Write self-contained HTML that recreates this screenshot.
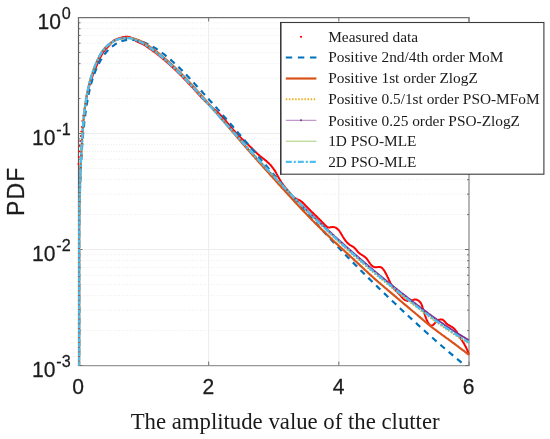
<!DOCTYPE html>
<html><head><meta charset="utf-8"><title>PDF of clutter amplitude</title>
<style>html,body{margin:0;padding:0;background:#fff}svg{display:block}</style></head>
<body>
<svg width="550" height="439" viewBox="0 0 550 439">
<rect width="550" height="439" fill="#fff"/>
<path d="M78.5 98.58H469.0M78.5 78.15H469.0M78.5 63.66H469.0M78.5 52.42H469.0M78.5 43.23H469.0M78.5 35.47H469.0M78.5 28.74H469.0M78.5 22.81H469.0M78.5 214.58H469.0M78.5 194.15H469.0M78.5 179.66H469.0M78.5 168.42H469.0M78.5 159.23H469.0M78.5 151.47H469.0M78.5 144.74H469.0M78.5 138.81H469.0M78.5 330.58H469.0M78.5 310.15H469.0M78.5 295.66H469.0M78.5 284.42H469.0M78.5 275.23H469.0M78.5 267.47H469.0M78.5 260.74H469.0M78.5 254.81H469.0" stroke="#ebebeb" stroke-width="1" stroke-dasharray="1 1.7" fill="none"/>
<path d="M78.5 17.50H469.0M78.5 133.50H469.0M78.5 249.50H469.0M78.5 365.50H469.0M78.50 17.5V365.5M208.67 17.5V365.5M338.83 17.5V365.5M469.00 17.5V365.5" stroke="#ececec" stroke-width="1" fill="none"/>
<path d="M78.5 16.9V366.1" stroke="#5c5c5c" stroke-width="1.2"/>
<path d="M77.9 17.65H469.6" stroke="#707070" stroke-width="1.2"/>
<path d="M469.0 16.9V366.1" stroke="#a0a0a0" stroke-width="1.5"/>
<path d="M77.9 365.7H469.6" stroke="#989898" stroke-width="1.2"/>
<path d="M78.50 365.5v-4M78.50 17.5v4M208.67 365.5v-4M208.67 17.5v4M338.83 365.5v-4M338.83 17.5v4M469.00 365.5v-4M469.00 17.5v4M78.5 17.50h4M469.0 17.50h-4M78.5 133.50h4M469.0 133.50h-4M78.5 249.50h4M469.0 249.50h-4M78.5 365.50h4M469.0 365.50h-4M78.5 98.58h2M469.0 98.58h-2M78.5 78.15h2M469.0 78.15h-2M78.5 63.66h2M469.0 63.66h-2M78.5 52.42h2M469.0 52.42h-2M78.5 43.23h2M469.0 43.23h-2M78.5 35.47h2M469.0 35.47h-2M78.5 28.74h2M469.0 28.74h-2M78.5 22.81h2M469.0 22.81h-2M78.5 214.58h2M469.0 214.58h-2M78.5 194.15h2M469.0 194.15h-2M78.5 179.66h2M469.0 179.66h-2M78.5 168.42h2M469.0 168.42h-2M78.5 159.23h2M469.0 159.23h-2M78.5 151.47h2M469.0 151.47h-2M78.5 144.74h2M469.0 144.74h-2M78.5 138.81h2M469.0 138.81h-2M78.5 330.58h2M469.0 330.58h-2M78.5 310.15h2M469.0 310.15h-2M78.5 295.66h2M469.0 295.66h-2M78.5 284.42h2M469.0 284.42h-2M78.5 275.23h2M469.0 275.23h-2M78.5 267.47h2M469.0 267.47h-2M78.5 260.74h2M469.0 260.74h-2M78.5 254.81h2M469.0 254.81h-2" stroke="#707070" stroke-width="1" fill="none"/>
<clipPath id="c"><rect x="78.1" y="17.5" width="391.7" height="348.5"/></clipPath>
<circle cx="87.0" cy="93.6" r="0.9" fill="#ff0000"/>
<circle cx="86.1" cy="98.5" r="0.9" fill="#ff0000"/>
<circle cx="85.3" cy="103.6" r="0.9" fill="#ff0000"/>
<circle cx="84.4" cy="109" r="0.9" fill="#ff0000"/>
<circle cx="83.2" cy="115.5" r="0.9" fill="#ff0000"/>
<circle cx="82.3" cy="121" r="0.9" fill="#ff0000"/>
<circle cx="81.7" cy="126.8" r="0.9" fill="#ff0000"/>
<circle cx="81.2" cy="131.4" r="0.9" fill="#ff0000"/>
<circle cx="80.7" cy="136" r="0.9" fill="#ff0000"/>
<circle cx="80.2" cy="141" r="0.9" fill="#ff0000"/>
<circle cx="79.8" cy="146" r="0.9" fill="#ff0000"/>
<circle cx="79.3" cy="151.4" r="0.9" fill="#ff0000"/>
<circle cx="78.9" cy="157" r="0.9" fill="#ff0000"/>
<circle cx="78.4" cy="164" r="0.9" fill="#ff0000"/>
<g clip-path="url(#c)" fill="none" stroke-linejoin="round">
<path d="M86.0 100.0 L86.1 99.4 L86.3 98.7 L86.4 98.1 L86.5 97.5 L86.6 96.9 L86.7 96.2 L86.8 95.6 L87.0 95.0 L87.1 94.4 L87.3 93.8 L87.4 93.1 L87.5 92.5 L87.7 91.9 L87.8 91.3 L88.0 90.7 L88.2 90.1 L88.3 89.4 L88.5 88.8 L88.7 88.2 L88.8 87.6 L89.0 87.0 L89.2 86.4 L89.4 85.8 L89.5 85.2 L89.7 84.5 L89.9 83.9 L90.1 83.3 L90.3 82.7 L90.5 82.1 L90.7 81.5 L90.8 80.9 L91.0 80.3 L91.2 79.7 L91.4 79.1 L91.7 78.5 L91.9 77.9 L92.1 77.3 L92.3 76.7 L92.5 76.1 L92.7 75.5 L92.9 74.9 L93.2 74.3 L93.4 73.7 L93.6 73.1 L93.9 72.5 L94.1 71.9 L94.3 71.3 L94.6 70.7 L94.8 70.2 L95.1 69.6 L95.3 69.0 L95.5 68.4 L95.8 67.8 L96.0 67.2 L96.3 66.6 L96.5 66.0 L96.7 65.4 L97.0 64.9 L97.2 64.3 L97.5 63.7 L97.7 63.1 L98.0 62.5 L98.2 61.9 L98.5 61.3 L98.7 60.8 L99.0 60.2 L99.3 59.6 L99.5 59.0 L99.8 58.5 L100.1 57.9 L100.4 57.3 L100.7 56.8 L101.0 56.2 L101.3 55.6 L101.6 55.1 L101.9 54.5 L102.2 54.0 L102.5 53.4 L102.9 52.9 L103.2 52.3 L103.6 51.8 L103.9 51.3 L104.3 50.8 L104.7 50.3 L105.1 49.8 L105.5 49.3 L105.9 48.8 L106.4 48.4 L106.8 47.9 L107.3 47.5 L107.7 47.0 L108.2 46.6 L108.6 46.1 L109.0 45.6 L109.5 45.2 L109.9 44.7 L110.3 44.2 L110.7 43.7 L111.1 43.2 L111.5 42.7 L111.9 42.2 L112.4 41.8 L112.8 41.3 L113.3 40.9 L113.8 40.6 L114.4 40.2 L114.9 39.9 L115.5 39.6 L116.1 39.4 L116.7 39.1 L117.3 38.9 L117.9 38.7 L118.5 38.5 L119.1 38.3 L119.7 38.1 L120.4 37.9 L121.0 37.7 L121.6 37.5 L122.2 37.4 L122.8 37.2 L123.4 37.1 L124.1 37.0 L124.7 36.9 L125.3 36.8 L126.0 36.8 L126.6 36.8 L127.3 36.8 L127.9 36.8 L128.5 36.9 L129.2 37.0 L129.8 37.2 L130.4 37.4 L131.0 37.6 L131.6 37.9 L132.1 38.2 L132.6 38.5 L133.2 38.9 L133.7 39.3 L134.2 39.6 L134.7 40.0 L135.2 40.4 L135.8 40.8 L136.3 41.1 L136.9 41.4 L137.4 41.7 L138.0 42.0 L138.6 42.2 L139.2 42.5 L139.8 42.7 L140.3 43.0 L140.9 43.2 L141.5 43.5 L142.1 43.7 L142.7 44.0 L143.2 44.3 L143.8 44.7 L144.3 45.0 L144.9 45.3 L145.4 45.7 L145.9 46.0 L146.5 46.4 L147.0 46.7 L147.5 47.1 L148.0 47.5 L148.5 47.8 L149.1 48.2 L149.6 48.6 L150.1 48.9 L150.6 49.3 L151.2 49.7 L151.7 50.0 L152.2 50.4 L152.7 50.8 L153.2 51.1 L153.7 51.5 L154.2 51.9 L154.7 52.3 L155.3 52.7 L155.8 53.0 L156.3 53.4 L156.8 53.8 L157.3 54.2 L157.8 54.6 L158.3 55.0 L158.8 55.4 L159.3 55.8 L159.8 56.2 L160.3 56.6 L160.8 57.0 L161.2 57.4 L161.7 57.8 L162.2 58.2 L162.7 58.6 L163.2 59.0 L163.7 59.4 L164.2 59.8 L164.7 60.2 L165.1 60.7 L165.6 61.1 L166.1 61.5 L166.6 61.9 L167.1 62.3 L167.5 62.7 L168.0 63.2 L168.5 63.6 L169.0 64.0 L169.4 64.4 L169.9 64.9 L170.4 65.3 L170.9 65.7 L171.3 66.2 L171.8 66.6 L172.3 67.0 L172.7 67.5 L173.2 67.9 L173.7 68.3 L174.1 68.8 L174.6 69.2 L175.0 69.6 L175.5 70.1 L176.0 70.5 L176.4 71.0 L176.9 71.4 L177.3 71.8 L177.8 72.3 L178.2 72.7 L178.7 73.2 L179.1 73.6 L179.6 74.1 L180.0 74.5 L180.5 75.0 L180.9 75.4 L181.4 75.9 L181.8 76.3 L182.3 76.8 L182.7 77.2 L183.2 77.7 L183.6 78.2 L184.1 78.6 L184.5 79.1 L184.9 79.5 L185.4 80.0 L185.8 80.4 L186.3 80.9 L186.7 81.4 L187.1 81.8 L187.6 82.3 L188.0 82.8 L188.4 83.2 L188.9 83.7 L189.3 84.1 L189.8 84.6 L190.2 85.1 L190.6 85.5 L191.1 86.0 L191.5 86.5 L191.9 86.9 L192.4 87.4 L192.8 87.9 L193.2 88.3 L193.7 88.8 L194.1 89.3 L194.5 89.7 L194.9 90.2 L195.4 90.7 L195.8 91.2 L196.2 91.6 L196.6 92.1 L197.1 92.6 L197.5 93.1 L197.9 93.5 L198.3 94.0 L198.8 94.5 L199.2 95.0 L199.6 95.4 L200.0 95.9 L200.5 96.4 L200.9 96.8 L201.3 97.3 L201.8 97.8 L202.2 98.2 L202.6 98.7 L203.1 99.2 L203.5 99.6 L204.0 100.1 L204.4 100.5 L204.9 101.0 L205.3 101.4 L205.8 101.8 L206.2 102.3 L206.7 102.7 L207.2 103.2 L207.6 103.6 L208.1 104.0 L208.6 104.5 L209.0 104.9 L209.5 105.3 L210.0 105.7 L210.5 106.2 L210.9 106.6 L211.4 107.0 L211.9 107.4 L212.4 107.8 L212.9 108.2 L213.3 108.6 L213.8 109.1 L214.3 109.5 L214.8 109.9 L215.3 110.3 L215.8 110.7 L216.3 111.1 L216.7 111.5 L217.2 112.0 L217.7 112.4 L218.2 112.8 L218.6 113.2 L219.1 113.7 L219.6 114.1 L220.0 114.5 L220.5 115.0 L220.9 115.4 L221.4 115.9 L221.8 116.3 L222.2 116.8 L222.7 117.3 L223.1 117.8 L223.5 118.2 L223.9 118.7 L224.4 119.2 L224.8 119.7 L225.2 120.2 L225.6 120.6 L226.0 121.1 L226.4 121.6 L226.8 122.1 L227.2 122.6 L227.6 123.1 L228.0 123.6 L228.4 124.1 L228.8 124.6 L229.2 125.1 L229.6 125.6 L230.0 126.1 L230.5 126.5 L230.9 127.0 L231.3 127.5 L231.7 128.0 L232.1 128.5 L232.5 129.0 L232.9 129.5 L233.4 129.9 L233.8 130.4 L234.2 130.9 L234.6 131.4 L235.1 131.8 L235.5 132.3 L235.9 132.8 L236.4 133.2 L236.8 133.7 L237.2 134.2 L237.7 134.6 L238.1 135.1 L238.5 135.5 L239.0 136.0 L239.4 136.4 L239.9 136.9 L240.3 137.3 L240.8 137.8 L241.2 138.2 L241.7 138.7 L242.2 139.1 L242.6 139.5 L243.1 140.0 L243.5 140.4 L244.0 140.9 L244.5 141.3 L244.9 141.7 L245.4 142.2 L245.9 142.6 L246.3 143.0 L246.8 143.5 L247.3 143.9 L247.7 144.3 L248.2 144.8 L248.7 145.2 L249.1 145.6 L249.6 146.1 L250.0 146.5 L250.5 147.0 L250.9 147.4 L251.4 147.9 L251.9 148.3 L252.3 148.8 L252.8 149.2 L253.2 149.7 L253.7 150.1 L254.1 150.6 L254.6 151.0 L255.0 151.4 L255.5 151.9 L255.9 152.3 L256.4 152.8 L256.9 153.2 L257.3 153.6 L257.8 154.1 L258.3 154.5 L258.7 154.9 L259.2 155.3 L259.7 155.7 L260.2 156.2 L260.7 156.6 L261.2 157.0 L261.7 157.4 L262.2 157.8 L262.7 158.2 L263.2 158.5 L263.7 158.9 L264.2 159.3 L264.7 159.7 L265.2 160.1 L265.7 160.5 L266.1 160.9 L266.6 161.3 L267.1 161.8 L267.6 162.2 L268.1 162.6 L268.5 163.0 L269.0 163.5 L269.4 163.9 L269.9 164.4 L270.3 164.8 L270.8 165.3 L271.2 165.8 L271.6 166.3 L272.0 166.8 L272.4 167.3 L272.8 167.8 L273.2 168.3 L273.5 168.8 L273.9 169.3 L274.3 169.9 L274.6 170.4 L275.0 170.9 L275.3 171.5 L275.6 172.0 L275.9 172.6 L276.2 173.1 L276.5 173.7 L276.8 174.2 L277.2 174.8 L277.4 175.4 L277.7 175.9 L278.0 176.5 L278.3 177.0 L278.6 177.6 L279.0 178.2 L279.3 178.7 L279.6 179.3 L279.9 179.8 L280.2 180.4 L280.6 180.9 L280.9 181.4 L281.2 182.0 L281.6 182.5 L282.0 183.0 L282.3 183.6 L282.7 184.1 L283.1 184.6 L283.4 185.1 L283.8 185.6 L284.2 186.1 L284.6 186.6 L285.0 187.1 L285.4 187.6 L285.8 188.1 L286.2 188.5 L286.6 189.0 L287.0 189.5 L287.5 190.0 L287.9 190.5 L288.3 191.0 L288.7 191.5 L289.1 191.9 L289.5 192.4 L289.9 192.9 L290.4 193.4 L290.8 193.9 L291.2 194.4 L291.6 194.9 L292.0 195.4 L292.5 195.9 L292.9 196.3 L293.4 196.8 L293.9 197.2 L294.4 197.6 L294.9 197.9 L295.4 198.2 L296.0 198.5 L296.5 198.8 L297.1 199.1 L297.7 199.4 L298.3 199.6 L298.9 199.9 L299.4 200.2 L300.0 200.5 L300.5 200.8 L301.0 201.2 L301.5 201.6 L302.0 202.0 L302.5 202.4 L302.9 202.9 L303.4 203.3 L303.8 203.8 L304.3 204.2 L304.7 204.7 L305.2 205.2 L305.6 205.7 L306.1 206.1 L306.5 206.6 L307.0 207.0 L307.4 207.5 L307.9 208.0 L308.3 208.4 L308.8 208.9 L309.2 209.3 L309.7 209.8 L310.1 210.2 L310.6 210.7 L311.0 211.1 L311.5 211.6 L311.9 212.0 L312.4 212.4 L312.8 212.9 L313.3 213.3 L313.7 213.8 L314.2 214.2 L314.6 214.6 L315.1 215.1 L315.5 215.5 L316.0 215.9 L316.4 216.4 L316.9 216.8 L317.3 217.2 L317.7 217.7 L318.2 218.1 L318.6 218.5 L319.1 219.0 L319.5 219.4 L320.0 219.9 L320.4 220.3 L320.9 220.8 L321.3 221.2 L321.8 221.7 L322.2 222.1 L322.7 222.6 L323.1 223.1 L323.6 223.5 L324.0 224.0 L324.5 224.5 L325.0 225.0 L325.4 225.5 L325.9 225.9 L326.4 226.4 L326.9 226.8 L327.4 227.1 L328.0 227.3 L328.6 227.4 L329.2 227.4 L329.8 227.4 L330.4 227.3 L331.1 227.2 L331.8 227.1 L332.4 227.0 L333.1 227.0 L333.7 227.1 L334.4 227.2 L335.0 227.4 L335.6 227.6 L336.1 227.9 L336.7 228.3 L337.2 228.7 L337.7 229.1 L338.1 229.5 L338.6 230.0 L339.0 230.5 L339.4 231.0 L339.7 231.5 L340.1 232.0 L340.4 232.6 L340.8 233.1 L341.1 233.7 L341.4 234.2 L341.8 234.8 L342.1 235.3 L342.4 235.9 L342.7 236.4 L343.0 237.0 L343.4 237.5 L343.7 238.1 L344.0 238.6 L344.4 239.1 L344.8 239.7 L345.1 240.2 L345.5 240.7 L345.9 241.2 L346.3 241.7 L346.7 242.2 L347.2 242.6 L347.6 243.1 L348.1 243.5 L348.6 243.9 L349.1 244.3 L349.6 244.7 L350.1 245.1 L350.7 245.4 L351.2 245.7 L351.8 246.0 L352.3 246.4 L352.9 246.7 L353.4 247.0 L353.9 247.4 L354.4 247.8 L354.8 248.3 L355.3 248.7 L355.7 249.2 L356.1 249.7 L356.5 250.2 L356.9 250.7 L357.3 251.2 L357.7 251.7 L358.2 252.2 L358.6 252.6 L359.1 253.0 L359.6 253.4 L360.1 253.8 L360.6 254.1 L361.2 254.5 L361.7 254.8 L362.3 255.2 L362.8 255.5 L363.3 255.9 L363.9 256.2 L364.4 256.6 L364.9 257.0 L365.4 257.4 L365.8 257.8 L366.3 258.3 L366.7 258.7 L367.1 259.2 L367.4 259.7 L367.8 260.2 L368.2 260.8 L368.5 261.3 L368.9 261.8 L369.2 262.4 L369.6 262.9 L370.0 263.5 L370.4 264.0 L370.8 264.5 L371.2 265.0 L371.7 265.5 L372.2 265.9 L372.7 266.3 L373.2 266.7 L373.8 266.9 L374.3 267.1 L375.0 267.2 L375.6 267.3 L376.2 267.3 L376.9 267.2 L377.6 267.1 L378.2 267.0 L378.9 267.0 L379.5 267.0 L380.1 267.0 L380.6 267.2 L381.2 267.4 L381.7 267.7 L382.2 268.1 L382.6 268.6 L383.1 269.1 L383.5 269.6 L383.9 270.2 L384.3 270.8 L384.7 271.4 L385.0 272.0 L385.3 272.6 L385.7 273.2 L386.0 273.8 L386.3 274.4 L386.6 274.9 L386.9 275.5 L387.1 276.0 L387.4 276.6 L387.7 277.2 L388.0 277.7 L388.2 278.3 L388.5 278.8 L388.7 279.4 L389.0 280.0 L389.2 280.5 L389.5 281.1 L389.8 281.7 L390.0 282.3 L390.3 282.9 L390.6 283.4 L390.9 284.0 L391.2 284.6 L391.5 285.1 L391.8 285.7 L392.1 286.2 L392.5 286.8 L392.8 287.3 L393.2 287.8 L393.6 288.3 L394.0 288.8 L394.4 289.3 L394.9 289.7 L395.3 290.2 L395.7 290.6 L396.2 291.1 L396.6 291.5 L397.1 292.0 L397.5 292.4 L398.0 292.9 L398.4 293.3 L398.9 293.8 L399.3 294.3 L399.8 294.7 L400.2 295.2 L400.6 295.7 L401.0 296.2 L401.4 296.7 L401.9 297.2 L402.3 297.7 L402.7 298.1 L403.2 298.6 L403.6 299.0 L404.1 299.4 L404.6 299.8 L405.2 300.1 L405.8 300.4 L406.4 300.6 L407.0 300.8 L407.6 301.0 L408.3 301.1 L408.9 301.1 L409.6 301.1 L410.2 301.0 L410.8 300.8 L411.4 300.6 L412.1 300.3 L412.7 300.1 L413.3 299.9 L413.9 299.7 L414.5 299.6 L415.1 299.5 L415.7 299.5 L416.3 299.6 L416.9 299.8 L417.5 300.1 L418.1 300.4 L418.7 300.8 L419.2 301.2 L419.7 301.7 L420.1 302.2 L420.5 302.7 L420.9 303.2 L421.2 303.8 L421.5 304.3 L421.7 304.9 L422.0 305.5 L422.2 306.1 L422.4 306.7 L422.5 307.4 L422.7 308.0 L422.9 308.6 L423.1 309.2 L423.2 309.9 L423.4 310.5 L423.6 311.1 L423.8 311.7 L424.0 312.3 L424.2 312.9 L424.4 313.5 L424.6 314.1 L424.8 314.7 L425.0 315.3 L425.2 315.9 L425.4 316.5 L425.7 317.1 L425.9 317.7 L426.1 318.3 L426.3 318.8 L426.5 319.4 L426.8 320.0 L427.0 320.6 L427.3 321.1 L427.6 321.7 L427.9 322.3 L428.2 322.8 L428.6 323.4 L429.0 324.0 L429.4 324.5 L429.9 325.0 L430.4 325.4 L430.9 325.6 L431.5 325.6 L432.2 325.4 L432.8 325.1 L433.3 324.8 L433.8 324.3 L434.2 323.9 L434.7 323.4 L435.1 322.9 L435.5 322.4 L435.9 322.0 L436.4 321.5 L436.8 321.1 L437.3 320.7 L437.9 320.4 L438.5 320.0 L439.1 319.8 L439.7 319.6 L440.4 319.4 L441.0 319.4 L441.6 319.4 L442.2 319.6 L442.8 319.8 L443.3 320.2 L443.8 320.6 L444.2 321.0 L444.7 321.5 L445.1 322.0 L445.6 322.5 L446.0 323.0 L446.5 323.5 L447.0 323.9 L447.5 324.3 L448.0 324.6 L448.6 324.9 L449.1 325.3 L449.7 325.6 L450.2 325.9 L450.8 326.3 L451.3 326.6 L451.9 326.9 L452.4 327.3 L452.9 327.7 L453.4 328.0 L453.9 328.4 L454.4 328.9 L454.8 329.3 L455.2 329.8 L455.6 330.3 L456.0 330.8 L456.4 331.3 L456.7 331.8 L457.0 332.4 L457.3 333.0 L457.6 333.5 L457.9 334.1 L458.3 334.7 L458.6 335.2 L458.9 335.8 L459.2 336.3 L459.5 336.9 L459.9 337.4 L460.2 337.9 L460.6 338.5 L460.9 339.0 L461.3 339.5 L461.7 340.0 L462.0 340.6 L462.4 341.1 L462.7 341.6 L463.1 342.1 L463.4 342.7 L463.8 343.2 L464.1 343.8 L464.4 344.3 L464.7 344.9 L465.0 345.4 L465.3 346.0 L465.6 346.6 L465.9 347.1 L466.2 347.7 L466.5 348.3 L466.7 348.9 L467.0 349.4 L467.2 350.0 L467.5 350.6 L467.7 351.2 L467.9 351.8 L468.1 352.4 L468.4 353.0 L468.6 353.6 L468.8 354.2 L469.0 354.8" stroke="#ff0000" stroke-width="2"/>
<path d="M79.0 365.5 L79.0 364.3 L79.0 363.2 L79.0 362.0 L79.0 360.8 L79.1 359.6 L79.1 358.5 L79.1 357.3 L79.1 356.1 L79.1 354.9 L79.1 353.7 L79.1 352.6 L79.2 351.4 L79.2 350.2 L79.2 349.0 L79.2 347.9 L79.2 346.7 L79.2 345.5 L79.2 344.3 L79.2 343.2 L79.2 342.0 L79.2 340.8 L79.2 339.6 L79.2 338.5 L79.2 337.3 L79.3 336.1 L79.3 334.9 L79.3 333.8 L79.3 332.6 L79.3 331.4 L79.3 330.2 L79.3 329.1 L79.3 327.9 L79.3 326.7 L79.3 325.5 L79.3 324.4 L79.3 323.2 L79.3 322.0 L79.3 320.8 L79.3 319.6 L79.3 318.5 L79.3 317.3 L79.3 316.1 L79.3 314.9 L79.3 313.8 L79.3 312.6 L79.3 311.4 L79.3 310.2 L79.3 309.1 L79.3 307.9 L79.2 306.7 L79.2 305.5 L79.2 304.4 L79.2 303.2 L79.2 302.0 L79.2 300.8 L79.2 299.7 L79.2 298.5 L79.2 297.3 L79.2 296.1 L79.2 295.0 L79.2 293.8 L79.2 292.6 L79.2 291.4 L79.2 290.3 L79.2 289.1 L79.2 287.9 L79.2 286.7 L79.2 285.6 L79.2 284.4 L79.2 283.2 L79.2 282.0 L79.2 280.9 L79.1 279.7 L79.1 278.5 L79.1 277.3 L79.1 276.1 L79.1 275.0 L79.1 273.8 L79.1 272.6 L79.1 271.4 L79.1 270.3 L79.1 269.1 L79.1 267.9 L79.1 266.7 L79.1 265.6 L79.1 264.4 L79.1 263.2 L79.1 262.0 L79.1 260.9 L79.1 259.7 L79.1 258.5 L79.1 257.3 L79.1 256.2 L79.1 255.0 L79.1 253.8 L79.1 252.6 L79.1 251.5 L79.1 250.3 L79.1 249.1 L79.1 247.9 L79.1 246.8 L79.1 245.6 L79.1 244.4 L79.1 243.2 L79.1 242.1 L79.1 240.9 L79.1 239.7 L79.1 238.5 L79.1 237.4 L79.2 236.2 L79.2 235.0 L79.2 233.8 L79.2 232.7 L79.2 231.5 L79.2 230.3 L79.2 229.1 L79.2 228.0 L79.2 226.8 L79.2 225.6 L79.3 224.4 L79.3 223.3 L79.3 222.1 L79.3 220.9 L79.3 219.7 L79.3 218.6 L79.4 217.4 L79.4 216.2 L79.4 215.0 L79.4 213.9 L79.4 212.7 L79.4 211.5 L79.5 210.3 L79.5 209.2 L79.5 208.0 L79.5 206.8 L79.6 205.6 L79.6 204.5 L79.6 203.3 L79.6 202.1 L79.7 200.9 L79.7 199.8 L79.7 198.6 L79.8 197.4 L79.8 196.2 L79.8 195.1 L79.9 193.9 L79.9 192.7 L79.9 191.5 L80.0 190.4 L80.0 189.2 L80.0 188.0 L80.1 186.8 L80.1 185.7 L80.2 184.5 L80.2 183.3 L80.2 182.1 L80.3 181.0 L80.3 179.8 L80.4 178.6 L80.4 177.4 L80.5 176.3 L80.5 175.1 L80.6 173.9 L80.6 172.7 L80.7 171.6 L80.7 170.4 L80.8 169.2 L80.9 168.0 L80.9 166.9 L81.0 165.7 L81.0 164.5 L81.1 163.3 L81.2 162.2 L81.2 161.0 L81.3 159.8 L81.4 158.6 L81.4 157.5 L81.5 156.3 L81.6 155.1 L81.6 153.9 L81.7 152.8 L81.8 151.6 L81.9 150.4 L81.9 149.2 L82.0 148.1 L82.1 146.9 L82.2 145.7 L82.3 144.5 L82.4 143.4 L82.4 142.2 L82.5 141.0 L82.6 139.8 L82.7 138.7 L82.8 137.5 L82.9 136.3 L83.0 135.1 L83.1 134.0 L83.2 132.8 L83.3 131.6 L83.5 130.5 L83.6 129.3 L83.7 128.1 L83.8 127.0 L83.9 125.8 L84.1 124.6 L84.2 123.4 L84.3 122.3 L84.5 121.1 L84.6 119.9 L84.7 118.8 L84.9 117.6 L85.0 116.5 L85.2 115.3 L85.3 114.1 L85.5 113.0 L85.7 111.8 L85.8 110.6 L86.0 109.5 L86.2 108.3 L86.4 107.2 L86.5 106.0 L86.7 104.9 L86.9 103.7 L87.1 102.5 L87.3 101.4 L87.5 100.2 L87.7 99.1 L87.9 97.9 L88.1 96.8 L88.4 95.6 L88.6 94.5 L88.8 93.3 L89.1 92.2 L89.3 91.1 L89.6 89.9 L89.9 88.8 L90.1 87.6 L90.4 86.5 L90.7 85.4 L91.0 84.2 L91.3 83.1 L91.6 82.0 L92.0 80.8 L92.3 79.7 L92.7 78.6 L93.0 77.5 L93.4 76.4 L93.8 75.2 L94.2 74.1 L94.6 73.0 L95.0 71.9 L95.5 70.8 L95.9 69.7 L96.4 68.6 L96.9 67.5 L97.4 66.4 L97.9 65.3 L98.4 64.3 L99.0 63.2 L99.6 62.1 L100.1 61.1 L100.7 60.0 L101.4 59.0 L102.0 58.0 L102.6 57.0 L103.3 56.0 L104.0 55.0 L104.7 54.1 L105.5 53.1 L106.2 52.2 L107.0 51.3 L107.8 50.5 L108.7 49.6 L109.5 48.8 L110.4 48.0 L111.3 47.2 L112.2 46.5 L113.1 45.8 L114.1 45.1 L115.0 44.4 L116.0 43.8 L117.0 43.3 L118.0 42.7 L119.1 42.2 L120.1 41.8 L121.2 41.4 L122.3 41.0 L123.4 40.7 L124.5 40.4 L125.6 40.2 L126.7 40.0 L127.8 39.9 L129.0 39.8 L130.1 39.8 L131.3 39.8 L132.4 39.8 L133.6 39.9 L134.7 40.0 L135.8 40.2 L137.0 40.4 L138.1 40.6 L139.3 40.9 L140.4 41.2 L141.5 41.5 L142.6 41.9 L143.7 42.3 L144.8 42.7 L145.9 43.2 L147.0 43.7 L148.1 44.2 L149.1 44.7 L150.2 45.2 L151.3 45.8 L152.3 46.4 L153.3 47.0 L154.4 47.6 L155.4 48.2 L156.4 48.9 L157.4 49.5 L158.4 50.2 L159.4 50.9 L160.3 51.6 L161.3 52.3 L162.3 53.0 L163.2 53.7 L164.2 54.4 L165.1 55.1 L166.0 55.9 L166.9 56.6 L167.8 57.3 L168.7 58.1 L169.6 58.9 L170.5 59.6 L171.4 60.4 L172.3 61.2 L173.2 62.0 L174.0 62.8 L174.9 63.5 L175.8 64.3 L176.6 65.2 L177.5 66.0 L178.3 66.8 L179.2 67.6 L180.0 68.4 L180.8 69.2 L181.7 70.1 L182.5 70.9 L183.3 71.7 L184.1 72.6 L184.9 73.4 L185.8 74.3 L186.6 75.1 L187.4 76.0 L188.2 76.8 L189.0 77.7 L189.8 78.5 L190.6 79.4 L191.4 80.2 L192.2 81.1 L193.0 82.0 L193.8 82.8 L194.6 83.7 L195.4 84.5 L196.2 85.4 L197.0 86.3 L197.8 87.1 L198.6 88.0 L199.4 88.8 L200.2 89.7 L201.0 90.6 L201.8 91.4 L202.5 92.3 L203.3 93.2 L204.1 94.0 L204.9 94.9 L205.7 95.8 L206.5 96.7 L207.3 97.5 L208.1 98.4 L208.8 99.3 L209.6 100.2 L210.4 101.0 L211.2 101.9 L212.0 102.8 L212.8 103.7 L213.5 104.5 L214.3 105.4 L215.1 106.3 L215.9 107.2 L216.7 108.0 L217.4 108.9 L218.2 109.8 L219.0 110.7 L219.8 111.6 L220.5 112.4 L221.3 113.3 L222.1 114.2 L222.9 115.1 L223.6 116.0 L224.4 116.9 L225.2 117.8 L226.0 118.6 L226.7 119.5 L227.5 120.4 L228.3 121.3 L229.0 122.2 L229.8 123.1 L230.6 124.0 L231.3 124.8 L232.1 125.7 L232.9 126.6 L233.6 127.5 L234.4 128.4 L235.2 129.3 L235.9 130.2 L236.7 131.1 L237.5 132.0 L238.2 132.9 L239.0 133.8 L239.8 134.6 L240.5 135.5 L241.3 136.4 L242.1 137.3 L242.8 138.2 L243.6 139.1 L244.4 140.0 L245.1 140.9 L245.9 141.8 L246.7 142.7 L247.4 143.6 L248.2 144.5 L248.9 145.4 L249.7 146.3 L250.5 147.2 L251.2 148.1 L252.0 149.0 L252.8 149.9 L253.5 150.8 L254.3 151.6 L255.0 152.5 L255.8 153.4 L256.6 154.3 L257.3 155.2 L258.1 156.1 L258.8 157.0 L259.6 157.9 L260.4 158.8 L261.1 159.7 L261.9 160.6 L262.6 161.5 L263.4 162.4 L264.2 163.3 L264.9 164.2 L265.7 165.1 L266.5 166.0 L267.2 166.9 L268.0 167.8 L268.7 168.7 L269.5 169.6 L270.3 170.5 L271.0 171.4 L271.8 172.3 L272.5 173.2 L273.3 174.1 L274.1 175.0 L274.8 175.9 L275.6 176.7 L276.4 177.6 L277.1 178.5 L277.9 179.4 L278.6 180.3 L279.4 181.2 L280.2 182.1 L280.9 183.0 L281.7 183.9 L282.5 184.8 L283.2 185.7 L284.0 186.6 L284.8 187.5 L285.5 188.4 L286.3 189.3 L287.1 190.2 L287.8 191.0 L288.6 191.9 L289.4 192.8 L290.1 193.7 L290.9 194.6 L291.7 195.5 L292.4 196.4 L293.2 197.3 L294.0 198.2 L294.7 199.1 L295.5 199.9 L296.3 200.8 L297.1 201.7 L297.8 202.6 L298.6 203.5 L299.4 204.4 L300.2 205.3 L300.9 206.2 L301.7 207.0 L302.5 207.9 L303.3 208.8 L304.0 209.7 L304.8 210.6 L305.6 211.5 L306.4 212.3 L307.1 213.2 L307.9 214.1 L308.7 215.0 L309.5 215.9 L310.3 216.7 L311.0 217.6 L311.8 218.5 L312.6 219.4 L313.4 220.2 L314.2 221.1 L315.0 222.0 L315.7 222.9 L316.5 223.7 L317.3 224.6 L318.1 225.5 L318.9 226.4 L319.7 227.2 L320.5 228.1 L321.3 229.0 L322.1 229.8 L322.9 230.7 L323.6 231.6 L324.4 232.4 L325.2 233.3 L326.0 234.2 L326.8 235.0 L327.6 235.9 L328.4 236.8 L329.2 237.6 L330.0 238.5 L330.8 239.3 L331.6 240.2 L332.4 241.1 L333.2 241.9 L334.0 242.8 L334.8 243.6 L335.6 244.5 L336.5 245.3 L337.3 246.2 L338.1 247.0 L338.9 247.9 L339.7 248.7 L340.5 249.6 L341.3 250.4 L342.1 251.3 L342.9 252.1 L343.8 253.0 L344.6 253.8 L345.4 254.7 L346.2 255.5 L347.0 256.4 L347.8 257.2 L348.7 258.1 L349.5 258.9 L350.3 259.7 L351.1 260.6 L351.9 261.4 L352.8 262.3 L353.6 263.1 L354.4 263.9 L355.2 264.8 L356.1 265.6 L356.9 266.4 L357.7 267.3 L358.6 268.1 L359.4 268.9 L360.2 269.8 L361.0 270.6 L361.9 271.4 L362.7 272.3 L363.5 273.1 L364.4 273.9 L365.2 274.8 L366.0 275.6 L366.9 276.4 L367.7 277.2 L368.6 278.1 L369.4 278.9 L370.2 279.7 L371.1 280.5 L371.9 281.4 L372.7 282.2 L373.6 283.0 L374.4 283.8 L375.3 284.6 L376.1 285.5 L377.0 286.3 L377.8 287.1 L378.6 287.9 L379.5 288.7 L380.3 289.5 L381.2 290.4 L382.0 291.2 L382.9 292.0 L383.7 292.8 L384.6 293.6 L385.4 294.4 L386.3 295.2 L387.1 296.1 L388.0 296.9 L388.8 297.7 L389.7 298.5 L390.5 299.3 L391.4 300.1 L392.2 300.9 L393.1 301.7 L394.0 302.5 L394.8 303.3 L395.7 304.1 L396.5 304.9 L397.4 305.7 L398.2 306.6 L399.1 307.4 L400.0 308.2 L400.8 309.0 L401.7 309.8 L402.5 310.6 L403.4 311.4 L404.2 312.2 L405.1 313.0 L406.0 313.8 L406.8 314.6 L407.7 315.4 L408.6 316.2 L409.4 317.0 L410.3 317.8 L411.2 318.6 L412.0 319.4 L412.9 320.2 L413.7 320.9 L414.6 321.7 L415.5 322.5 L416.4 323.3 L417.2 324.1 L418.1 324.9 L419.0 325.7 L419.8 326.5 L420.7 327.3 L421.6 328.1 L422.4 328.9 L423.3 329.6 L424.2 330.4 L425.1 331.2 L425.9 332.0 L426.8 332.8 L427.7 333.6 L428.6 334.4 L429.4 335.1 L430.3 335.9 L431.2 336.7 L432.1 337.5 L433.0 338.3 L433.8 339.0 L434.7 339.8 L435.6 340.6 L436.5 341.4 L437.4 342.1 L438.3 342.9 L439.2 343.7 L440.0 344.4 L440.9 345.2 L441.8 346.0 L442.7 346.8 L443.6 347.5 L444.5 348.3 L445.4 349.1 L446.3 349.8 L447.2 350.6 L448.1 351.3 L449.0 352.1 L449.9 352.9 L450.8 353.6 L451.7 354.4 L452.5 355.1 L453.4 355.9 L454.4 356.6 L455.3 357.4 L456.2 358.2 L457.1 358.9 L458.0 359.7 L458.9 360.4 L459.8 361.1 L460.7 361.9 L461.6 362.6" stroke="#0072bd" stroke-width="2.2" stroke-dasharray="5.9 5.03" stroke-dashoffset="2.01"/>
<path d="M79.1 365.5 L79.1 364.4 L79.1 363.2 L79.1 362.0 L79.1 360.9 L79.1 359.7 L79.1 358.6 L79.1 357.4 L79.1 356.3 L79.1 355.1 L79.2 353.9 L79.2 352.8 L79.2 351.6 L79.2 350.5 L79.2 349.3 L79.2 348.2 L79.2 347.0 L79.2 345.8 L79.2 344.7 L79.2 343.5 L79.2 342.4 L79.2 341.2 L79.2 340.1 L79.2 338.9 L79.2 337.8 L79.2 336.6 L79.2 335.4 L79.2 334.3 L79.2 333.1 L79.2 332.0 L79.2 330.8 L79.2 329.7 L79.2 328.5 L79.2 327.3 L79.2 326.2 L79.2 325.0 L79.2 323.9 L79.2 322.7 L79.2 321.6 L79.2 320.4 L79.2 319.3 L79.2 318.1 L79.2 316.9 L79.2 315.8 L79.2 314.6 L79.2 313.5 L79.2 312.3 L79.2 311.2 L79.2 310.0 L79.2 308.9 L79.2 307.7 L79.2 306.5 L79.2 305.4 L79.2 304.2 L79.2 303.1 L79.2 301.9 L79.2 300.8 L79.2 299.6 L79.2 298.4 L79.2 297.3 L79.2 296.1 L79.2 295.0 L79.2 293.8 L79.2 292.7 L79.2 291.5 L79.2 290.4 L79.2 289.2 L79.2 288.0 L79.2 286.9 L79.2 285.7 L79.2 284.6 L79.2 283.4 L79.2 282.3 L79.2 281.1 L79.2 280.0 L79.2 278.8 L79.2 277.6 L79.2 276.5 L79.2 275.3 L79.2 274.2 L79.2 273.0 L79.2 271.9 L79.2 270.7 L79.2 269.6 L79.2 268.4 L79.2 267.2 L79.2 266.1 L79.2 264.9 L79.2 263.8 L79.2 262.6 L79.2 261.5 L79.2 260.3 L79.2 259.2 L79.2 258.0 L79.2 256.9 L79.2 255.7 L79.2 254.5 L79.2 253.4 L79.2 252.2 L79.2 251.1 L79.2 249.9 L79.2 248.8 L79.2 247.6 L79.2 246.5 L79.2 245.3 L79.2 244.1 L79.2 243.0 L79.2 241.8 L79.2 240.7 L79.2 239.5 L79.2 238.4 L79.2 237.2 L79.2 236.1 L79.2 234.9 L79.2 233.7 L79.2 232.6 L79.2 231.4 L79.2 230.3 L79.2 229.1 L79.2 228.0 L79.2 226.8 L79.2 225.7 L79.2 224.5 L79.2 223.4 L79.3 222.2 L79.3 221.0 L79.3 219.9 L79.3 218.7 L79.3 217.6 L79.3 216.4 L79.3 215.3 L79.4 214.1 L79.4 213.0 L79.4 211.8 L79.4 210.6 L79.4 209.5 L79.5 208.3 L79.5 207.2 L79.5 206.0 L79.5 204.9 L79.5 203.7 L79.6 202.6 L79.6 201.4 L79.6 200.3 L79.6 199.1 L79.7 197.9 L79.7 196.8 L79.7 195.6 L79.8 194.5 L79.8 193.3 L79.8 192.2 L79.8 191.0 L79.9 189.9 L79.9 188.7 L79.9 187.5 L80.0 186.4 L80.0 185.2 L80.0 184.1 L80.1 182.9 L80.1 181.8 L80.2 180.6 L80.2 179.5 L80.2 178.3 L80.3 177.2 L80.3 176.0 L80.4 174.8 L80.4 173.7 L80.4 172.5 L80.5 171.4 L80.5 170.2 L80.6 169.1 L80.6 167.9 L80.7 166.8 L80.7 165.6 L80.8 164.4 L80.8 163.3 L80.9 162.1 L80.9 161.0 L81.0 159.8 L81.0 158.7 L81.1 157.5 L81.2 156.4 L81.2 155.2 L81.3 154.1 L81.3 152.9 L81.4 151.7 L81.5 150.6 L81.5 149.4 L81.6 148.3 L81.6 147.1 L81.7 146.0 L81.8 144.8 L81.8 143.7 L81.9 142.5 L82.0 141.3 L82.1 140.2 L82.1 139.0 L82.2 137.9 L82.3 136.7 L82.4 135.6 L82.4 134.4 L82.5 133.3 L82.6 132.1 L82.7 130.9 L82.8 129.8 L82.8 128.6 L82.9 127.5 L83.0 126.3 L83.1 125.2 L83.2 124.0 L83.3 122.9 L83.4 121.7 L83.5 120.6 L83.6 119.4 L83.7 118.3 L83.8 117.1 L84.0 116.0 L84.1 114.8 L84.2 113.7 L84.3 112.5 L84.5 111.4 L84.6 110.2 L84.7 109.1 L84.9 107.9 L85.0 106.8 L85.2 105.6 L85.3 104.5 L85.5 103.4 L85.7 102.2 L85.9 101.1 L86.0 99.9 L86.2 98.8 L86.4 97.7 L86.6 96.5 L86.8 95.4 L87.0 94.3 L87.2 93.1 L87.5 92.0 L87.7 90.9 L87.9 89.8 L88.2 88.6 L88.4 87.5 L88.7 86.4 L89.0 85.3 L89.2 84.1 L89.5 83.0 L89.8 81.9 L90.1 80.8 L90.4 79.7 L90.7 78.6 L91.1 77.5 L91.4 76.4 L91.7 75.3 L92.1 74.2 L92.5 73.1 L92.8 72.0 L93.2 70.9 L93.6 69.8 L94.0 68.7 L94.4 67.6 L94.8 66.5 L95.2 65.4 L95.7 64.3 L96.1 63.3 L96.6 62.2 L97.1 61.1 L97.6 60.0 L98.1 59.0 L98.6 57.9 L99.1 56.9 L99.6 55.9 L100.2 54.8 L100.8 53.8 L101.4 52.8 L102.1 51.9 L102.7 50.9 L103.4 50.0 L104.1 49.1 L104.9 48.2 L105.7 47.3 L106.5 46.5 L107.3 45.7 L108.2 44.9 L109.1 44.2 L110.0 43.5 L110.9 42.8 L111.9 42.2 L112.9 41.6 L113.9 41.0 L114.9 40.5 L116.0 40.0 L117.0 39.6 L118.1 39.3 L119.2 38.9 L120.3 38.7 L121.4 38.4 L122.5 38.3 L123.6 38.1 L124.7 38.0 L125.9 37.7 L127.0 37.7 L128.1 37.7 L129.2 37.8 L130.3 37.9 L131.4 38.0 L132.5 38.2 L133.6 38.5 L134.7 38.8 L135.8 39.1 L136.8 39.5 L137.9 39.9 L138.9 40.3 L139.9 40.8 L141.0 41.3 L142.0 41.8 L143.0 42.4 L144.0 42.9 L145.0 43.5 L146.0 44.2 L147.0 44.8 L148.0 45.4 L149.0 46.1 L149.9 46.8 L150.9 47.5 L151.9 48.1 L152.8 48.8 L153.8 49.5 L154.7 50.2 L155.6 50.9 L156.6 51.7 L157.5 52.4 L158.4 53.1 L159.3 53.8 L160.2 54.5 L161.1 55.3 L162.0 56.0 L162.9 56.8 L163.8 57.5 L164.7 58.3 L165.6 59.0 L166.5 59.8 L167.3 60.6 L168.2 61.3 L169.1 62.1 L169.9 62.9 L170.8 63.6 L171.6 64.4 L172.5 65.2 L173.3 66.0 L174.2 66.8 L175.0 67.6 L175.8 68.4 L176.7 69.2 L177.5 70.0 L178.3 70.8 L179.1 71.6 L179.9 72.4 L180.8 73.3 L181.6 74.1 L182.4 74.9 L183.2 75.7 L184.0 76.5 L184.8 77.4 L185.6 78.2 L186.4 79.0 L187.2 79.9 L188.0 80.7 L188.8 81.6 L189.6 82.4 L190.3 83.2 L191.1 84.1 L191.9 84.9 L192.7 85.8 L193.5 86.6 L194.3 87.5 L195.0 88.3 L195.8 89.2 L196.6 90.0 L197.4 90.9 L198.1 91.7 L198.9 92.6 L199.7 93.5 L200.5 94.3 L201.2 95.2 L202.0 96.0 L202.8 96.9 L203.5 97.8 L204.3 98.7 L205.1 99.6 L205.8 100.5 L206.6 101.4 L207.4 102.3 L208.2 103.2 L208.9 104.1 L209.7 105.0 L210.5 105.9 L211.2 106.8 L212.0 107.7 L212.8 108.6 L213.5 109.5 L214.3 110.5 L215.1 111.4 L215.8 112.3 L216.6 113.2 L217.4 114.1 L218.2 115.0 L218.9 115.9 L219.7 116.8 L220.5 117.7 L221.2 118.6 L222.0 119.5 L222.8 120.4 L223.6 121.3 L224.3 122.2 L225.1 123.1 L225.9 124.0 L226.6 124.9 L227.4 125.8 L228.2 126.7 L228.9 127.6 L229.7 128.5 L230.5 129.4 L231.3 130.3 L232.0 131.2 L232.8 132.1 L233.6 133.0 L234.4 133.9 L235.1 134.8 L235.9 135.7 L236.7 136.6 L237.4 137.5 L238.2 138.4 L239.0 139.3 L239.8 140.2 L240.5 141.1 L241.3 142.0 L242.1 142.9 L242.9 143.8 L243.6 144.7 L244.4 145.6 L245.2 146.5 L246.0 147.4 L246.8 148.3 L247.5 149.2 L248.3 150.1 L249.1 150.9 L249.9 151.8 L250.6 152.7 L251.4 153.6 L252.2 154.5 L253.0 155.4 L253.8 156.3 L254.5 157.1 L255.3 158.0 L256.1 158.9 L256.9 159.8 L257.7 160.7 L258.4 161.5 L259.2 162.4 L260.0 163.3 L260.8 164.2 L261.6 165.0 L262.4 165.9 L263.1 166.8 L263.9 167.7 L264.7 168.5 L265.5 169.4 L266.3 170.3 L267.1 171.2 L267.9 172.0 L268.6 172.9 L269.4 173.8 L270.2 174.7 L271.0 175.6 L271.8 176.4 L272.6 177.3 L273.4 178.2 L274.2 179.1 L275.0 180.0 L275.8 180.8 L276.5 181.7 L277.3 182.6 L278.1 183.5 L278.9 184.4 L279.7 185.2 L280.5 186.1 L281.3 187.0 L282.1 187.9 L282.9 188.8 L283.7 189.6 L284.5 190.5 L285.3 191.4 L286.1 192.3 L286.9 193.1 L287.7 194.0 L288.5 194.9 L289.3 195.8 L290.1 196.6 L290.9 197.5 L291.7 198.4 L292.5 199.3 L293.3 200.1 L294.1 201.0 L294.9 201.9 L295.7 202.8 L296.5 203.6 L297.4 204.5 L298.2 205.4 L299.0 206.3 L299.8 207.1 L300.6 208.0 L301.4 208.9 L302.2 209.7 L303.0 210.6 L303.8 211.4 L304.7 212.3 L305.5 213.1 L306.3 214.0 L307.1 214.8 L307.9 215.7 L308.7 216.5 L309.6 217.4 L310.4 218.2 L311.2 219.0 L312.0 219.9 L312.8 220.7 L313.7 221.5 L314.5 222.4 L315.3 223.2 L316.1 224.0 L317.0 224.8 L317.8 225.6 L318.6 226.4 L319.5 227.3 L320.3 228.1 L321.1 228.9 L322.0 229.7 L322.8 230.5 L323.6 231.3 L324.5 232.1 L325.3 232.9 L326.1 233.7 L327.0 234.5 L327.8 235.3 L328.6 236.1 L329.5 236.9 L330.3 237.8 L331.2 238.6 L332.0 239.4 L332.8 240.2 L333.7 241.0 L334.5 241.8 L335.4 242.6 L336.2 243.3 L337.1 244.1 L337.9 244.9 L338.8 245.7 L339.6 246.5 L340.5 247.3 L341.3 248.1 L342.2 248.9 L343.0 249.7 L343.9 250.4 L344.8 251.2 L345.6 252.0 L346.5 252.8 L347.3 253.6 L348.2 254.3 L349.1 255.1 L349.9 255.9 L350.8 256.7 L351.6 257.5 L352.5 258.3 L353.4 259.1 L354.2 259.9 L355.1 260.7 L356.0 261.5 L356.9 262.3 L357.7 263.1 L358.6 263.9 L359.5 264.8 L360.3 265.6 L361.2 266.4 L362.1 267.2 L363.0 268.0 L363.8 268.8 L364.7 269.7 L365.6 270.5 L366.5 271.3 L367.4 272.1 L368.2 273.0 L369.1 273.8 L370.0 274.6 L370.9 275.4 L371.8 276.2 L372.7 277.0 L373.5 277.8 L374.4 278.6 L375.3 279.4 L376.2 280.2 L377.1 280.9 L378.0 281.7 L378.9 282.5 L379.8 283.2 L380.6 284.0 L381.5 284.7 L382.4 285.5 L383.3 286.2 L384.2 287.0 L385.1 287.8 L386.0 288.5 L386.9 289.3 L387.8 290.1 L388.7 290.8 L389.6 291.6 L390.5 292.3 L391.4 293.1 L392.3 293.9 L393.2 294.6 L394.1 295.4 L395.0 296.2 L395.9 296.9 L396.8 297.7 L397.7 298.5 L398.6 299.2 L399.5 300.0 L400.4 300.8 L401.3 301.5 L402.2 302.3 L403.1 303.1 L404.0 303.8 L404.9 304.6 L405.9 305.4 L406.8 306.1 L407.7 306.9 L408.6 307.7 L409.5 308.4 L410.4 309.2 L411.3 310.0 L412.2 310.7 L413.1 311.5 L414.0 312.2 L415.0 313.0 L415.9 313.8 L416.8 314.5 L417.7 315.3 L418.6 316.1 L419.5 316.8 L420.4 317.6 L421.4 318.4 L422.3 319.2 L423.2 320.0 L424.1 320.8 L425.0 321.6 L426.0 322.3 L426.9 323.1 L427.8 323.9 L428.7 324.7 L429.7 325.4 L430.6 326.1 L431.5 326.9 L432.4 327.6 L433.4 328.3 L434.3 329.0 L435.2 329.7 L436.2 330.4 L437.1 331.1 L438.1 331.8 L439.0 332.5 L439.9 333.2 L440.9 333.9 L441.8 334.6 L442.8 335.3 L443.7 336.0 L444.7 336.7 L445.6 337.4 L446.6 338.1 L447.5 338.7 L448.5 339.4 L449.4 340.1 L450.4 340.8 L451.4 341.5 L452.3 342.3 L453.3 343.0 L454.3 343.7 L455.2 344.4 L456.2 345.2 L457.2 345.9 L458.2 346.6 L459.1 347.4 L460.1 348.1 L461.1 348.8 L462.1 349.6 L463.1 350.3 L464.1 351.0 L465.0 351.8 L466.0 352.5 L467.0 353.3 L468.0 354.0 L469.0 354.8" stroke="#d95319" stroke-width="2.2"/>
<path d="M79.1 365.5 L79.1 364.4 L79.1 363.2 L79.1 362.0 L79.1 360.9 L79.1 359.7 L79.1 358.6 L79.1 357.4 L79.1 356.3 L79.1 355.1 L79.2 353.9 L79.2 352.8 L79.2 351.6 L79.2 350.5 L79.2 349.3 L79.2 348.2 L79.2 347.0 L79.2 345.8 L79.2 344.7 L79.2 343.5 L79.2 342.4 L79.2 341.2 L79.2 340.1 L79.2 338.9 L79.2 337.8 L79.2 336.6 L79.2 335.4 L79.2 334.3 L79.2 333.1 L79.2 332.0 L79.2 330.8 L79.2 329.7 L79.2 328.5 L79.2 327.3 L79.2 326.2 L79.2 325.0 L79.2 323.9 L79.2 322.7 L79.2 321.6 L79.2 320.4 L79.2 319.3 L79.2 318.1 L79.2 316.9 L79.2 315.8 L79.2 314.6 L79.2 313.5 L79.2 312.3 L79.2 311.2 L79.2 310.0 L79.2 308.9 L79.2 307.7 L79.2 306.5 L79.2 305.4 L79.2 304.2 L79.2 303.1 L79.2 301.9 L79.2 300.8 L79.2 299.6 L79.2 298.4 L79.2 297.3 L79.2 296.1 L79.2 295.0 L79.2 293.8 L79.2 292.7 L79.2 291.5 L79.2 290.4 L79.2 289.2 L79.2 288.0 L79.2 286.9 L79.2 285.7 L79.2 284.6 L79.2 283.4 L79.2 282.3 L79.2 281.1 L79.2 280.0 L79.2 278.8 L79.2 277.6 L79.2 276.5 L79.2 275.3 L79.2 274.2 L79.2 273.0 L79.2 271.9 L79.2 270.7 L79.2 269.6 L79.2 268.4 L79.2 267.2 L79.2 266.1 L79.2 264.9 L79.2 263.8 L79.2 262.6 L79.2 261.5 L79.2 260.3 L79.2 259.2 L79.2 258.0 L79.2 256.9 L79.2 255.7 L79.2 254.5 L79.2 253.4 L79.2 252.2 L79.2 251.1 L79.2 249.9 L79.2 248.8 L79.2 247.6 L79.2 246.5 L79.2 245.3 L79.2 244.1 L79.2 243.0 L79.2 241.8 L79.2 240.7 L79.2 239.5 L79.2 238.4 L79.2 237.2 L79.2 236.1 L79.2 234.9 L79.2 233.7 L79.2 232.6 L79.2 231.4 L79.2 230.3 L79.2 229.1 L79.2 228.0 L79.2 226.8 L79.2 225.7 L79.2 224.5 L79.2 223.4 L79.3 222.2 L79.3 221.0 L79.3 219.9 L79.3 218.7 L79.3 217.6 L79.3 216.4 L79.3 215.3 L79.4 214.1 L79.4 213.0 L79.4 211.8 L79.4 210.6 L79.4 209.5 L79.5 208.3 L79.5 207.2 L79.5 206.0 L79.5 204.9 L79.5 203.7 L79.6 202.6 L79.6 201.4 L79.6 200.3 L79.6 199.1 L79.7 197.9 L79.7 196.8 L79.7 195.6 L79.8 194.5 L79.8 193.3 L79.8 192.2 L79.8 191.0 L79.9 189.9 L79.9 188.7 L79.9 187.5 L80.0 186.4 L80.0 185.2 L80.0 184.1 L80.1 182.9 L80.1 181.8 L80.2 180.6 L80.2 179.5 L80.2 178.3 L80.3 177.2 L80.3 176.0 L80.4 174.8 L80.4 173.7 L80.4 172.5 L80.5 171.4 L80.5 170.2 L80.6 169.1 L80.6 167.9 L80.7 166.8 L80.7 165.6 L80.8 164.4 L80.8 163.3 L80.9 162.1 L80.9 161.0 L81.0 159.8 L81.0 158.7 L81.1 157.5 L81.2 156.4 L81.2 155.2 L81.3 154.1 L81.3 152.9 L81.4 151.7 L81.5 150.6 L81.5 149.4 L81.6 148.3 L81.6 147.1 L81.7 146.0 L81.8 144.8 L81.8 143.7 L81.9 142.5 L82.0 141.3 L82.1 140.2 L82.1 139.0 L82.2 137.9 L82.3 136.7 L82.4 135.6 L82.4 134.4 L82.5 133.3 L82.6 132.1 L82.7 130.9 L82.8 129.8 L82.8 128.6 L82.9 127.5 L83.0 126.3 L83.1 125.2 L83.2 124.0 L83.3 122.9 L83.4 121.7 L83.5 120.6 L83.6 119.4 L83.7 118.3 L83.8 117.1 L84.0 116.0 L84.1 114.8 L84.2 113.7 L84.3 112.5 L84.5 111.4 L84.6 110.2 L84.7 109.1 L84.9 107.9 L85.0 106.8 L85.2 105.6 L85.3 104.5 L85.5 103.4 L85.7 102.2 L85.9 101.1 L86.0 99.9 L86.2 98.8 L86.4 97.7 L86.6 96.5 L86.8 95.4 L87.0 94.3 L87.2 93.1 L87.5 92.0 L87.7 90.9 L87.9 89.8 L88.2 88.6 L88.4 87.5 L88.7 86.4 L89.0 85.3 L89.2 84.1 L89.5 83.0 L89.8 81.9 L90.1 80.8 L90.4 79.7 L90.7 78.6 L91.1 77.5 L91.4 76.4 L91.7 75.3 L92.1 74.2 L92.5 73.1 L92.8 72.0 L93.2 70.9 L93.6 69.8 L94.0 68.7 L94.4 67.6 L94.8 66.5 L95.2 65.4 L95.7 64.3 L96.1 63.3 L96.6 62.2 L97.1 61.1 L97.6 60.0 L98.1 59.0 L98.6 57.9 L99.1 56.9 L99.6 55.9 L100.2 54.8 L100.8 53.8 L101.4 52.8 L102.1 51.9 L102.7 50.9 L103.4 50.0 L104.1 49.1 L104.9 48.2 L105.7 47.3 L106.5 46.5 L107.3 45.7 L108.2 44.9 L109.1 44.2 L110.0 43.5 L110.9 42.8 L111.9 42.2 L112.9 41.6 L113.9 41.0 L114.9 40.5 L116.0 40.0 L117.0 39.6 L118.1 39.3 L119.2 38.9 L120.3 38.7 L121.4 38.4 L122.5 38.3 L123.6 38.1 L124.7 38.0 L125.9 38.0 L127.0 38.0 L128.1 38.1 L129.2 38.2 L130.3 38.4 L131.4 38.6 L132.5 38.8 L133.6 39.1 L134.7 39.4 L135.8 39.8 L136.8 40.2 L137.9 40.7 L138.9 41.1 L139.9 41.6 L141.0 42.2 L142.0 42.7 L143.0 43.3 L144.0 43.9 L145.0 44.5 L146.0 45.1 L147.0 45.8 L148.0 46.4 L149.0 47.1 L149.9 47.8 L150.9 48.5 L151.9 49.1 L152.8 49.8 L153.8 50.5 L154.7 51.2 L155.6 51.9 L156.6 52.7 L157.5 53.4 L158.4 54.1 L159.3 54.8 L160.2 55.5 L161.1 56.3 L162.0 57.0 L162.9 57.8 L163.8 58.5 L164.7 59.3 L165.6 60.0 L166.5 60.8 L167.3 61.6 L168.2 62.3 L169.1 63.1 L169.9 63.9 L170.8 64.6 L171.6 65.4 L172.5 66.2 L173.3 67.0 L174.2 67.8 L175.0 68.6 L175.8 69.4 L176.7 70.2 L177.5 71.0 L178.3 71.8 L179.1 72.6 L179.9 73.4 L180.8 74.3 L181.6 75.1 L182.4 75.9 L183.2 76.7 L184.0 77.5 L184.8 78.4 L185.6 79.2 L186.4 80.0 L187.2 80.9 L188.0 81.7 L188.8 82.6 L189.6 83.4 L190.3 84.2 L191.1 85.1 L191.9 85.9 L192.7 86.8 L193.5 87.6 L194.3 88.5 L195.0 89.3 L195.8 90.2 L196.6 91.0 L197.4 91.9 L198.1 92.7 L198.9 93.6 L199.7 94.5 L200.5 95.3 L201.2 96.2 L202.0 97.0 L202.8 97.9 L203.5 98.8 L204.3 99.6 L205.1 100.5 L205.8 101.3 L206.6 102.2 L207.4 103.1 L208.2 103.9 L208.9 104.8 L209.7 105.6 L210.5 106.5 L211.2 107.4 L212.0 108.2 L212.8 109.1 L213.5 109.9 L214.3 110.8 L215.1 111.7 L215.8 112.5 L216.6 113.4 L217.4 114.2 L218.2 115.1 L218.9 116.0 L219.7 116.8 L220.5 117.7 L221.2 118.6 L222.0 119.4 L222.8 120.3 L223.6 121.1 L224.3 122.0 L225.1 122.9 L225.9 123.7 L226.6 124.6 L227.4 125.4 L228.2 126.3 L228.9 127.2 L229.7 128.0 L230.5 128.9 L231.3 129.7 L232.0 130.6 L232.8 131.5 L233.6 132.3 L234.4 133.2 L235.1 134.0 L235.9 134.9 L236.7 135.8 L237.4 136.6 L238.2 137.5 L239.0 138.3 L239.8 139.2 L240.5 140.1 L241.3 140.9 L242.1 141.8 L242.9 142.6 L243.6 143.5 L244.4 144.3 L245.2 145.2 L246.0 146.1 L246.8 146.9 L247.5 147.8 L248.3 148.6 L249.1 149.5 L249.9 150.3 L250.6 151.2 L251.4 152.1 L252.2 152.9 L253.0 153.8 L253.8 154.6 L254.5 155.5 L255.3 156.3 L256.1 157.2 L256.9 158.0 L257.7 158.9 L258.4 159.7 L259.2 160.6 L260.0 161.4 L260.8 162.3 L261.6 163.1 L262.4 164.0 L263.1 164.8 L263.9 165.7 L264.7 166.5 L265.5 167.4 L266.3 168.2 L267.1 169.1 L267.9 169.9 L268.6 170.8 L269.4 171.6 L270.2 172.5 L271.0 173.3 L271.8 174.2 L272.6 175.0 L273.4 175.8 L274.2 176.7 L275.0 177.5 L275.8 178.4 L276.5 179.2 L277.3 180.1 L278.1 180.9 L278.9 181.7 L279.7 182.6 L280.5 183.4 L281.3 184.3 L282.1 185.1 L282.9 185.9 L283.7 186.8 L284.5 187.6 L285.3 188.4 L286.1 189.3 L286.9 190.1 L287.7 190.9 L288.5 191.8 L289.3 192.6 L290.1 193.4 L290.9 194.3 L291.7 195.1 L292.5 195.9 L293.3 196.8 L294.1 197.6 L294.9 198.4 L295.7 199.2 L296.5 200.1 L297.4 200.9 L298.2 201.7 L299.0 202.5 L299.8 203.4 L300.6 204.2 L301.4 205.0 L302.2 205.8 L303.0 206.7 L303.8 207.5 L304.7 208.3 L305.5 209.2 L306.3 210.0 L307.1 210.8 L307.9 211.7 L308.7 212.5 L309.6 213.3 L310.4 214.2 L311.2 215.0 L312.0 215.8 L312.8 216.7 L313.7 217.5 L314.5 218.3 L315.3 219.2 L316.1 220.0 L317.0 220.8 L317.8 221.7 L318.6 222.5 L319.5 223.3 L320.3 224.2 L321.1 225.0 L322.0 225.8 L322.8 226.6 L323.6 227.5 L324.5 228.3 L325.3 229.1 L326.1 229.9 L327.0 230.8 L327.8 231.6 L328.6 232.4 L329.5 233.2 L330.3 234.0 L331.2 234.8 L332.0 235.6 L332.8 236.5 L333.7 237.3 L334.5 238.1 L335.4 238.9 L336.2 239.7 L337.1 240.5 L337.9 241.2 L338.8 242.0 L339.6 242.8 L340.5 243.6 L341.3 244.4 L342.2 245.2 L343.0 245.9 L343.9 246.7 L344.8 247.5 L345.6 248.3 L346.5 249.1 L347.3 249.8 L348.2 250.6 L349.1 251.4 L349.9 252.1 L350.8 252.9 L351.6 253.7 L352.5 254.4 L353.4 255.2 L354.2 256.0 L355.1 256.7 L356.0 257.5 L356.9 258.3 L357.7 259.0 L358.6 259.8 L359.5 260.6 L360.3 261.3 L361.2 262.1 L362.1 262.8 L363.0 263.6 L363.8 264.3 L364.7 265.1 L365.6 265.8 L366.5 266.6 L367.4 267.3 L368.2 268.1 L369.1 268.8 L370.0 269.6 L370.9 270.3 L371.8 271.1 L372.7 271.8 L373.5 272.6 L374.4 273.3 L375.3 274.1 L376.2 274.8 L377.1 275.6 L378.0 276.3 L378.9 277.0 L379.8 277.8 L380.6 278.5 L381.5 279.2 L382.4 280.0 L383.3 280.7 L384.2 281.5 L385.1 282.2 L386.0 282.9 L386.9 283.7 L387.8 284.4 L388.7 285.1 L389.6 285.8 L390.5 286.6 L391.4 287.3 L392.3 288.0 L393.2 288.8 L394.1 289.5 L395.0 290.2 L395.9 290.9 L396.8 291.7 L397.7 292.4 L398.6 293.1 L399.5 293.8 L400.4 294.5 L401.3 295.3 L402.2 296.0 L403.1 296.7 L404.0 297.4 L404.9 298.1 L405.9 298.9 L406.8 299.6 L407.7 300.3 L408.6 301.0 L409.5 301.7 L410.4 302.4 L411.3 303.2 L412.2 303.9 L413.1 304.6 L414.0 305.3 L415.0 306.0 L415.9 306.7 L416.8 307.4 L417.7 308.1 L418.6 308.8 L419.5 309.5 L420.4 310.2 L421.4 310.9 L422.3 311.6 L423.2 312.3 L424.1 313.0 L425.0 313.7 L426.0 314.4 L426.9 315.1 L427.8 315.8 L428.7 316.5 L429.7 317.2 L430.6 317.9 L431.5 318.6 L432.4 319.3 L433.4 320.0 L434.3 320.6 L435.2 321.3 L436.2 322.0 L437.1 322.7 L438.1 323.3 L439.0 324.0 L439.9 324.7 L440.9 325.4 L441.8 326.0 L442.8 326.7 L443.7 327.3 L444.7 328.0 L445.6 328.7 L446.6 329.3 L447.5 330.0 L448.5 330.6 L449.4 331.3 L450.4 331.9 L451.4 332.5 L452.3 333.2 L453.3 333.8 L454.3 334.5 L455.2 335.1 L456.2 335.7 L457.2 336.3 L458.2 337.0 L459.1 337.6 L460.1 338.2 L461.1 338.8 L462.1 339.4 L463.1 340.0 L464.1 340.6 L465.0 341.2 L466.0 341.8 L467.0 342.4 L468.0 343.0 L469.0 343.6" stroke="#edb120" stroke-width="2" stroke-dasharray="1.4 1.7"/>
<path d="M79.1 365.5 L79.1 364.4 L79.1 363.2 L79.1 362.0 L79.1 360.9 L79.1 359.7 L79.1 358.6 L79.1 357.4 L79.1 356.3 L79.1 355.1 L79.2 353.9 L79.2 352.8 L79.2 351.6 L79.2 350.5 L79.2 349.3 L79.2 348.2 L79.2 347.0 L79.2 345.8 L79.2 344.7 L79.2 343.5 L79.2 342.4 L79.2 341.2 L79.2 340.1 L79.2 338.9 L79.2 337.8 L79.2 336.6 L79.2 335.4 L79.2 334.3 L79.2 333.1 L79.2 332.0 L79.2 330.8 L79.2 329.7 L79.2 328.5 L79.2 327.3 L79.2 326.2 L79.2 325.0 L79.2 323.9 L79.2 322.7 L79.2 321.6 L79.2 320.4 L79.2 319.3 L79.2 318.1 L79.2 316.9 L79.2 315.8 L79.2 314.6 L79.2 313.5 L79.2 312.3 L79.2 311.2 L79.2 310.0 L79.2 308.9 L79.2 307.7 L79.2 306.5 L79.2 305.4 L79.2 304.2 L79.2 303.1 L79.2 301.9 L79.2 300.8 L79.2 299.6 L79.2 298.4 L79.2 297.3 L79.2 296.1 L79.2 295.0 L79.2 293.8 L79.2 292.7 L79.2 291.5 L79.2 290.4 L79.2 289.2 L79.2 288.0 L79.2 286.9 L79.2 285.7 L79.2 284.6 L79.2 283.4 L79.2 282.3 L79.2 281.1 L79.2 280.0 L79.2 278.8 L79.2 277.6 L79.2 276.5 L79.2 275.3 L79.2 274.2 L79.2 273.0 L79.2 271.9 L79.2 270.7 L79.2 269.6 L79.2 268.4 L79.2 267.2 L79.2 266.1 L79.2 264.9 L79.2 263.8 L79.2 262.6 L79.2 261.5 L79.2 260.3 L79.2 259.2 L79.2 258.0 L79.2 256.9 L79.2 255.7 L79.2 254.5 L79.2 253.4 L79.2 252.2 L79.2 251.1 L79.2 249.9 L79.2 248.8 L79.2 247.6 L79.2 246.5 L79.2 245.3 L79.2 244.1 L79.2 243.0 L79.2 241.8 L79.2 240.7 L79.2 239.5 L79.2 238.4 L79.2 237.2 L79.2 236.1 L79.2 234.9 L79.2 233.7 L79.2 232.6 L79.2 231.4 L79.2 230.3 L79.2 229.1 L79.2 228.0 L79.2 226.8 L79.2 225.7 L79.2 224.5 L79.2 223.4 L79.3 222.2 L79.3 221.0 L79.3 219.9 L79.3 218.7 L79.3 217.6 L79.3 216.4 L79.3 215.3 L79.4 214.1 L79.4 213.0 L79.4 211.8 L79.4 210.6 L79.4 209.5 L79.5 208.3 L79.5 207.2 L79.5 206.0 L79.5 204.9 L79.5 203.7 L79.6 202.6 L79.6 201.4 L79.6 200.3 L79.6 199.1 L79.7 197.9 L79.7 196.8 L79.7 195.6 L79.8 194.5 L79.8 193.3 L79.8 192.2 L79.8 191.0 L79.9 189.9 L79.9 188.7 L79.9 187.5 L80.0 186.4 L80.0 185.2 L80.0 184.1 L80.1 182.9 L80.1 181.8 L80.2 180.6 L80.2 179.5 L80.2 178.3 L80.3 177.2 L80.3 176.0 L80.4 174.8 L80.4 173.7 L80.4 172.5 L80.5 171.4 L80.5 170.2 L80.6 169.1 L80.6 167.9 L80.7 166.8 L80.7 165.6 L80.8 164.4 L80.8 163.3 L80.9 162.1 L80.9 161.0 L81.0 159.8 L81.0 158.7 L81.1 157.5 L81.2 156.4 L81.2 155.2 L81.3 154.1 L81.3 152.9 L81.4 151.7 L81.5 150.6 L81.5 149.4 L81.6 148.3 L81.6 147.1 L81.7 146.0 L81.8 144.8 L81.8 143.7 L81.9 142.5 L82.0 141.3 L82.1 140.2 L82.1 139.0 L82.2 137.9 L82.3 136.7 L82.4 135.6 L82.4 134.4 L82.5 133.3 L82.6 132.1 L82.7 130.9 L82.8 129.8 L82.8 128.6 L82.9 127.5 L83.0 126.3 L83.1 125.2 L83.2 124.0 L83.3 122.9 L83.4 121.7 L83.5 120.6 L83.6 119.4 L83.7 118.3 L83.8 117.1 L84.0 116.0 L84.1 114.8 L84.2 113.7 L84.3 112.5 L84.5 111.4 L84.6 110.2 L84.7 109.1 L84.9 107.9 L85.0 106.8 L85.2 105.6 L85.3 104.5 L85.5 103.4 L85.7 102.2 L85.9 101.1 L86.0 99.9 L86.2 98.8 L86.4 97.7 L86.6 96.5 L86.8 95.4 L87.0 94.3 L87.2 93.1 L87.5 92.0 L87.7 90.9 L87.9 89.8 L88.2 88.6 L88.4 87.5 L88.7 86.4 L89.0 85.3 L89.2 84.1 L89.5 83.0 L89.8 81.9 L90.1 80.8 L90.4 79.7 L90.7 78.6 L91.1 77.5 L91.4 76.4 L91.7 75.3 L92.1 74.2 L92.5 73.1 L92.8 72.0 L93.2 70.9 L93.6 69.8 L94.0 68.7 L94.4 67.6 L94.8 66.5 L95.2 65.4 L95.7 64.3 L96.1 63.3 L96.6 62.2 L97.1 61.1 L97.6 60.0 L98.1 59.0 L98.6 57.9 L99.1 56.9 L99.6 55.9 L100.2 54.8 L100.8 53.8 L101.4 52.8 L102.1 51.9 L102.7 50.9 L103.4 50.0 L104.1 49.1 L104.9 48.2 L105.7 47.3 L106.5 46.5 L107.3 45.7 L108.2 44.9 L109.1 44.2 L110.0 43.5 L110.9 42.8 L111.9 42.2 L112.9 41.6 L113.9 41.0 L114.9 40.5 L116.0 40.0 L117.0 39.6 L118.1 39.3 L119.2 38.9 L120.3 38.7 L121.4 38.4 L122.5 38.3 L123.6 38.1 L124.7 38.0 L125.9 38.0 L127.0 38.0 L128.1 38.1 L129.2 38.2 L130.3 38.4 L131.4 38.6 L132.5 38.8 L133.6 39.1 L134.7 39.4 L135.8 39.8 L136.8 40.2 L137.9 40.6 L138.9 41.1 L139.9 41.6 L141.0 42.2 L142.0 42.7 L143.0 43.3 L144.0 43.9 L145.0 44.5 L146.0 45.1 L147.0 45.8 L148.0 46.4 L149.0 47.1 L149.9 47.8 L150.9 48.5 L151.9 49.1 L152.8 49.8 L153.8 50.5 L154.7 51.2 L155.6 51.9 L156.6 52.6 L157.5 53.4 L158.4 54.1 L159.3 54.8 L160.2 55.5 L161.1 56.3 L162.0 57.0 L162.9 57.8 L163.8 58.5 L164.7 59.3 L165.6 60.0 L166.5 60.8 L167.3 61.5 L168.2 62.3 L169.1 63.1 L169.9 63.9 L170.8 64.6 L171.6 65.4 L172.5 66.2 L173.3 67.0 L174.2 67.8 L175.0 68.6 L175.8 69.4 L176.7 70.2 L177.5 71.0 L178.3 71.8 L179.1 72.6 L179.9 73.4 L180.8 74.2 L181.6 75.1 L182.4 75.9 L183.2 76.7 L184.0 77.5 L184.8 78.4 L185.6 79.2 L186.4 80.0 L187.2 80.9 L188.0 81.7 L188.8 82.5 L189.6 83.4 L190.3 84.2 L191.1 85.1 L191.9 85.9 L192.7 86.8 L193.5 87.6 L194.3 88.5 L195.0 89.3 L195.8 90.2 L196.6 91.0 L197.4 91.9 L198.1 92.7 L198.9 93.6 L199.7 94.4 L200.5 95.3 L201.2 96.1 L202.0 97.0 L202.8 97.9 L203.5 98.7 L204.3 99.6 L205.1 100.4 L205.8 101.3 L206.6 102.2 L207.4 103.0 L208.2 103.9 L208.9 104.7 L209.7 105.6 L210.5 106.5 L211.2 107.3 L212.0 108.2 L212.8 109.0 L213.5 109.9 L214.3 110.8 L215.1 111.6 L215.8 112.5 L216.6 113.3 L217.4 114.2 L218.2 115.1 L218.9 115.9 L219.7 116.8 L220.5 117.6 L221.2 118.5 L222.0 119.4 L222.8 120.2 L223.6 121.1 L224.3 121.9 L225.1 122.8 L225.9 123.7 L226.6 124.5 L227.4 125.4 L228.2 126.2 L228.9 127.1 L229.7 128.0 L230.5 128.8 L231.3 129.7 L232.0 130.5 L232.8 131.4 L233.6 132.3 L234.4 133.1 L235.1 134.0 L235.9 134.8 L236.7 135.7 L237.4 136.5 L238.2 137.4 L239.0 138.3 L239.8 139.1 L240.5 140.0 L241.3 140.8 L242.1 141.7 L242.9 142.6 L243.6 143.4 L244.4 144.3 L245.2 145.1 L246.0 146.0 L246.8 146.8 L247.5 147.7 L248.3 148.5 L249.1 149.4 L249.9 150.3 L250.6 151.1 L251.4 152.0 L252.2 152.8 L253.0 153.7 L253.8 154.5 L254.5 155.4 L255.3 156.2 L256.1 157.1 L256.9 157.9 L257.7 158.8 L258.4 159.6 L259.2 160.5 L260.0 161.3 L260.8 162.2 L261.6 163.0 L262.4 163.9 L263.1 164.7 L263.9 165.6 L264.7 166.4 L265.5 167.3 L266.3 168.1 L267.1 169.0 L267.9 169.8 L268.6 170.6 L269.4 171.5 L270.2 172.3 L271.0 173.2 L271.8 174.0 L272.6 174.9 L273.4 175.7 L274.2 176.6 L275.0 177.4 L275.8 178.2 L276.5 179.1 L277.3 179.9 L278.1 180.8 L278.9 181.6 L279.7 182.4 L280.5 183.3 L281.3 184.1 L282.1 184.9 L282.9 185.8 L283.7 186.6 L284.5 187.4 L285.3 188.3 L286.1 189.1 L286.9 189.9 L287.7 190.8 L288.5 191.6 L289.3 192.4 L290.1 193.3 L290.9 194.1 L291.7 194.9 L292.5 195.8 L293.3 196.6 L294.1 197.4 L294.9 198.2 L295.7 199.1 L296.5 199.9 L297.4 200.7 L298.2 201.5 L299.0 202.4 L299.8 203.2 L300.6 204.0" stroke="#7e2f8e" stroke-width="1.0"/>
<path d="M299.8 203.2 L300.6 204.0 L301.4 204.8 L302.2 205.6 L303.0 206.4 L303.8 207.2 L304.7 208.1 L305.5 208.9 L306.3 209.7 L307.1 210.5 L307.9 211.3 L308.7 212.1 L309.6 212.9 L310.4 213.6 L311.2 214.4 L312.0 215.2 L312.8 216.0 L313.7 216.8 L314.5 217.6 L315.3 218.4 L316.1 219.1 L317.0 219.9 L317.8 220.7 L318.6 221.5 L319.5 222.3 L320.3 223.0 L321.1 223.8 L322.0 224.6 L322.8 225.3 L323.6 226.1 L324.5 226.9 L325.3 227.7 L326.1 228.4 L327.0 229.2 L327.8 230.0 L328.6 230.7 L329.5 231.5 L330.3 232.3 L331.2 233.0 L332.0 233.8 L332.8 234.6 L333.7 235.3 L334.5 236.1 L335.4 236.9 L336.2 237.6 L337.1 238.4 L337.9 239.2 L338.8 240.0 L339.6 240.7 L340.5 241.5 L341.3 242.3 L342.2 243.0 L343.0 243.8 L343.9 244.6 L344.8 245.3 L345.6 246.1 L346.5 246.9 L347.3 247.6 L348.2 248.4 L349.1 249.2 L349.9 249.9 L350.8 250.7 L351.6 251.5 L352.5 252.2 L353.4 253.0 L354.2 253.7 L355.1 254.5 L356.0 255.2 L356.9 256.0 L357.7 256.8 L358.6 257.5 L359.5 258.3 L360.3 259.0 L361.2 259.8 L362.1 260.5 L363.0 261.3 L363.8 262.0 L364.7 262.8 L365.6 263.5 L366.5 264.3 L367.4 265.0 L368.2 265.8 L369.1 266.5 L370.0 267.2 L370.9 268.0 L371.8 268.7 L372.7 269.5 L373.5 270.2 L374.4 270.9 L375.3 271.7 L376.2 272.4 L377.1 273.2 L378.0 273.9 L378.9 274.6 L379.8 275.4 L380.6 276.1 L381.5 276.8 L382.4 277.6 L383.3 278.3 L384.2 279.0 L385.1 279.7 L386.0 280.5 L386.9 281.2 L387.8 281.9 L388.7 282.7 L389.6 283.4 L390.5 284.1 L391.4 284.8 L392.3 285.5 L393.2 286.3 L394.1 287.0 L395.0 287.7 L395.9 288.4 L396.8 289.1 L397.7 289.9 L398.6 290.6 L399.5 291.3 L400.4 292.0 L401.3 292.7 L402.2 293.4 L403.1 294.1 L404.0 294.8 L404.9 295.6 L405.9 296.3 L406.8 297.0 L407.7 297.7 L408.6 298.4 L409.5 299.1 L410.4 299.8 L411.3 300.5 L412.2 301.2 L413.1 301.9 L414.0 302.6 L415.0 303.3 L415.9 304.0 L416.8 304.7 L417.7 305.4 L418.6 306.1 L419.5 306.8 L420.4 307.5 L421.4 308.2 L422.3 308.9 L423.2 309.5 L424.1 310.2 L425.0 310.9 L426.0 311.6 L426.9 312.3 L427.8 313.0 L428.7 313.7 L429.7 314.3 L430.6 315.0 L431.5 315.7 L432.4 316.4 L433.4 317.0 L434.3 317.7 L435.2 318.4 L436.2 319.0 L437.1 319.7 L438.1 320.4 L439.0 321.0 L439.9 321.7 L440.9 322.3 L441.8 323.0 L442.8 323.6 L443.7 324.3 L444.7 324.9 L445.6 325.6 L446.6 326.2 L447.5 326.8 L448.5 327.5 L449.4 328.1 L450.4 328.8 L451.4 329.4 L452.3 330.0 L453.3 330.6 L454.3 331.3 L455.2 331.9 L456.2 332.5 L457.2 333.1 L458.2 333.7 L459.1 334.3 L460.1 334.9 L461.1 335.5 L462.1 336.1 L463.1 336.7 L464.1 337.3 L465.0 337.9 L466.0 338.5 L467.0 339.1 L468.0 339.7 L469.0 340.3" stroke="#7e2f8e" stroke-width="1.9"/>
<path d="M79.1 365.5 L79.1 364.4 L79.1 363.2 L79.1 362.0 L79.1 360.9 L79.1 359.7 L79.1 358.6 L79.1 357.4 L79.1 356.3 L79.1 355.1 L79.2 353.9 L79.2 352.8 L79.2 351.6 L79.2 350.5 L79.2 349.3 L79.2 348.2 L79.2 347.0 L79.2 345.8 L79.2 344.7 L79.2 343.5 L79.2 342.4 L79.2 341.2 L79.2 340.1 L79.2 338.9 L79.2 337.8 L79.2 336.6 L79.2 335.4 L79.2 334.3 L79.2 333.1 L79.2 332.0 L79.2 330.8 L79.2 329.7 L79.2 328.5 L79.2 327.3 L79.2 326.2 L79.2 325.0 L79.2 323.9 L79.2 322.7 L79.2 321.6 L79.2 320.4 L79.2 319.3 L79.2 318.1 L79.2 316.9 L79.2 315.8 L79.2 314.6 L79.2 313.5 L79.2 312.3 L79.2 311.2 L79.2 310.0 L79.2 308.9 L79.2 307.7 L79.2 306.5 L79.2 305.4 L79.2 304.2 L79.2 303.1 L79.2 301.9 L79.2 300.8 L79.2 299.6 L79.2 298.4 L79.2 297.3 L79.2 296.1 L79.2 295.0 L79.2 293.8 L79.2 292.7 L79.2 291.5 L79.2 290.4 L79.2 289.2 L79.2 288.0 L79.2 286.9 L79.2 285.7 L79.2 284.6 L79.2 283.4 L79.2 282.3 L79.2 281.1 L79.2 280.0 L79.2 278.8 L79.2 277.6 L79.2 276.5 L79.2 275.3 L79.2 274.2 L79.2 273.0 L79.2 271.9 L79.2 270.7 L79.2 269.6 L79.2 268.4 L79.2 267.2 L79.2 266.1 L79.2 264.9 L79.2 263.8 L79.2 262.6 L79.2 261.5 L79.2 260.3 L79.2 259.2 L79.2 258.0 L79.2 256.9 L79.2 255.7 L79.2 254.5 L79.2 253.4 L79.2 252.2 L79.2 251.1 L79.2 249.9 L79.2 248.8 L79.2 247.6 L79.2 246.5 L79.2 245.3 L79.2 244.1 L79.2 243.0 L79.2 241.8 L79.2 240.7 L79.2 239.5 L79.2 238.4 L79.2 237.2 L79.2 236.1 L79.2 234.9 L79.2 233.7 L79.2 232.6 L79.2 231.4 L79.2 230.3 L79.2 229.1 L79.2 228.0 L79.2 226.8 L79.2 225.7 L79.2 224.5 L79.2 223.4 L79.3 222.2 L79.3 221.0 L79.3 219.9 L79.3 218.7 L79.3 217.6 L79.3 216.4 L79.3 215.3 L79.4 214.1 L79.4 213.0 L79.4 211.8 L79.4 210.6 L79.4 209.5 L79.5 208.3 L79.5 207.2 L79.5 206.0 L79.5 204.9 L79.5 203.7 L79.6 202.6 L79.6 201.4 L79.6 200.3 L79.6 199.1 L79.7 197.9 L79.7 196.8 L79.7 195.6 L79.8 194.5 L79.8 193.3 L79.8 192.2 L79.8 191.0 L79.9 189.9 L79.9 188.7 L79.9 187.5 L80.0 186.4 L80.0 185.2 L80.0 184.1 L80.1 182.9 L80.1 181.8 L80.2 180.6 L80.2 179.5 L80.2 178.3 L80.3 177.2 L80.3 176.0 L80.4 174.8 L80.4 173.7 L80.4 172.5 L80.5 171.4 L80.5 170.2 L80.6 169.1 L80.6 167.9 L80.7 166.8 L80.7 165.6 L80.8 164.4 L80.8 163.3 L80.9 162.1 L80.9 161.0 L81.0 159.8 L81.0 158.7 L81.1 157.5 L81.2 156.4 L81.2 155.2 L81.3 154.1 L81.3 152.9 L81.4 151.7 L81.5 150.6 L81.5 149.4 L81.6 148.3 L81.6 147.1 L81.7 146.0 L81.8 144.8 L81.8 143.7 L81.9 142.5 L82.0 141.3 L82.1 140.2 L82.1 139.0 L82.2 137.9 L82.3 136.7 L82.4 135.6 L82.4 134.4 L82.5 133.3 L82.6 132.1 L82.7 130.9 L82.8 129.8 L82.8 128.6 L82.9 127.5 L83.0 126.3 L83.1 125.2 L83.2 124.0 L83.3 122.9 L83.4 121.7 L83.5 120.6 L83.6 119.4 L83.7 118.3 L83.8 117.1 L84.0 116.0 L84.1 114.8 L84.2 113.7 L84.3 112.5 L84.5 111.4 L84.6 110.2 L84.7 109.1 L84.9 107.9 L85.0 106.8 L85.2 105.6 L85.3 104.5 L85.5 103.4 L85.7 102.2 L85.9 101.1 L86.0 99.9 L86.2 98.8 L86.4 97.7 L86.6 96.5 L86.8 95.4 L87.0 94.3 L87.2 93.1 L87.5 92.0 L87.7 90.9 L87.9 89.8 L88.2 88.6 L88.4 87.5 L88.7 86.4 L89.0 85.3 L89.2 84.1 L89.5 83.0 L89.8 81.9 L90.1 80.8 L90.4 79.7 L90.7 78.6 L91.1 77.5 L91.4 76.4 L91.7 75.3 L92.1 74.2 L92.5 73.1 L92.8 72.0 L93.2 70.9 L93.6 69.8 L94.0 68.7 L94.4 67.6 L94.8 66.5 L95.2 65.4 L95.7 64.3 L96.1 63.3 L96.6 62.2 L97.1 61.1 L97.6 60.0 L98.1 59.0 L98.6 57.9 L99.1 56.9 L99.6 55.9 L100.2 54.8 L100.8 53.8 L101.4 52.8 L102.1 51.9 L102.7 50.9 L103.4 50.0 L104.1 49.1 L104.9 48.2 L105.7 47.3 L106.5 46.5 L107.3 45.7 L108.2 44.9 L109.1 44.2 L110.0 43.5 L110.9 42.8 L111.9 42.2 L112.9 41.6 L113.9 41.0 L114.9 40.5 L116.0 40.0 L117.0 39.6 L118.1 39.3 L119.2 38.9 L120.3 38.7 L121.4 38.4 L122.5 38.3 L123.6 38.1 L124.7 38.0 L125.9 38.0 L127.0 38.0 L128.1 38.1 L129.2 38.2 L130.3 38.4 L131.4 38.6 L132.5 38.8 L133.6 39.1 L134.7 39.4 L135.8 39.8 L136.8 40.2 L137.9 40.7 L138.9 41.1 L139.9 41.6 L141.0 42.2 L142.0 42.7 L143.0 43.3 L144.0 43.9 L145.0 44.5 L146.0 45.1 L147.0 45.8 L148.0 46.4 L149.0 47.1 L149.9 47.8 L150.9 48.5 L151.9 49.1 L152.8 49.8 L153.8 50.5 L154.7 51.2 L155.6 51.9 L156.6 52.7 L157.5 53.4 L158.4 54.1 L159.3 54.8 L160.2 55.5 L161.1 56.3 L162.0 57.0 L162.9 57.8 L163.8 58.5 L164.7 59.3 L165.6 60.0 L166.5 60.8 L167.3 61.6 L168.2 62.3 L169.1 63.1 L169.9 63.9 L170.8 64.6 L171.6 65.4 L172.5 66.2 L173.3 67.0 L174.2 67.8 L175.0 68.6 L175.8 69.4 L176.7 70.2 L177.5 71.0 L178.3 71.8 L179.1 72.6 L179.9 73.4 L180.8 74.3 L181.6 75.1 L182.4 75.9 L183.2 76.7 L184.0 77.5 L184.8 78.4 L185.6 79.2 L186.4 80.0 L187.2 80.9 L188.0 81.7 L188.8 82.6 L189.6 83.4 L190.3 84.2 L191.1 85.1 L191.9 85.9 L192.7 86.8 L193.5 87.6 L194.3 88.5 L195.0 89.3 L195.8 90.2 L196.6 91.0 L197.4 91.9 L198.1 92.7 L198.9 93.6 L199.7 94.5 L200.5 95.3 L201.2 96.2 L202.0 97.0 L202.8 97.9 L203.5 98.8 L204.3 99.6 L205.1 100.5 L205.8 101.3 L206.6 102.2 L207.4 103.1 L208.2 103.9 L208.9 104.8 L209.7 105.6 L210.5 106.5 L211.2 107.4 L212.0 108.2 L212.8 109.1 L213.5 109.9 L214.3 110.8 L215.1 111.7 L215.8 112.5 L216.6 113.4 L217.4 114.2 L218.2 115.1 L218.9 116.0 L219.7 116.8 L220.5 117.7 L221.2 118.6 L222.0 119.4 L222.8 120.3 L223.6 121.1 L224.3 122.0 L225.1 122.9 L225.9 123.7 L226.6 124.6 L227.4 125.4 L228.2 126.3 L228.9 127.2 L229.7 128.0 L230.5 128.9 L231.3 129.7 L232.0 130.6 L232.8 131.5 L233.6 132.3 L234.4 133.2 L235.1 134.0 L235.9 134.9 L236.7 135.8 L237.4 136.6 L238.2 137.5 L239.0 138.3 L239.8 139.2 L240.5 140.1 L241.3 140.9 L242.1 141.8 L242.9 142.6 L243.6 143.5 L244.4 144.3 L245.2 145.2 L246.0 146.1 L246.8 146.9 L247.5 147.8 L248.3 148.6 L249.1 149.5 L249.9 150.3 L250.6 151.2 L251.4 152.1 L252.2 152.9 L253.0 153.8 L253.8 154.6 L254.5 155.5 L255.3 156.3 L256.1 157.2 L256.9 158.0 L257.7 158.9 L258.4 159.7 L259.2 160.6 L260.0 161.4 L260.8 162.3 L261.6 163.1 L262.4 164.0 L263.1 164.8 L263.9 165.7 L264.7 166.5 L265.5 167.4 L266.3 168.2 L267.1 169.1 L267.9 169.9 L268.6 170.8 L269.4 171.6 L270.2 172.5 L271.0 173.3 L271.8 174.2 L272.6 175.0 L273.4 175.8 L274.2 176.7 L275.0 177.5 L275.8 178.4 L276.5 179.2 L277.3 180.1 L278.1 180.9 L278.9 181.7 L279.7 182.6 L280.5 183.4 L281.3 184.3 L282.1 185.1 L282.9 185.9 L283.7 186.8 L284.5 187.6 L285.3 188.4 L286.1 189.3 L286.9 190.1 L287.7 190.9 L288.5 191.8 L289.3 192.6 L290.1 193.4 L290.9 194.3 L291.7 195.1 L292.5 195.9 L293.3 196.8 L294.1 197.6 L294.9 198.4 L295.7 199.2 L296.5 200.1 L297.4 200.9 L298.2 201.7 L299.0 202.5 L299.8 203.4 L300.6 204.2 L301.4 205.0 L302.2 205.8 L303.0 206.7 L303.8 207.5 L304.7 208.3 L305.5 209.1 L306.3 210.0 L307.1 210.8 L307.9 211.6 L308.7 212.4 L309.6 213.2 L310.4 214.1 L311.2 214.9 L312.0 215.7 L312.8 216.5 L313.7 217.3 L314.5 218.1 L315.3 219.0 L316.1 219.8 L317.0 220.6 L317.8 221.4 L318.6 222.2 L319.5 223.0 L320.3 223.8 L321.1 224.7 L322.0 225.5 L322.8 226.3 L323.6 227.1 L324.5 227.9 L325.3 228.7 L326.1 229.5 L327.0 230.3 L327.8 231.1 L328.6 231.9 L329.5 232.7 L330.3 233.5 L331.2 234.3 L332.0 235.1 L332.8 235.9 L333.7 236.7 L334.5 237.5 L335.4 238.3 L336.2 239.1 L337.1 239.9 L337.9 240.7 L338.8 241.4 L339.6 242.2 L340.5 243.0 L341.3 243.8 L342.2 244.6 L343.0 245.3 L343.9 246.1 L344.8 246.9 L345.6 247.7 L346.5 248.4 L347.3 249.2 L348.2 250.0 L349.1 250.8 L349.9 251.5 L350.8 252.3 L351.6 253.1 L352.5 253.8 L353.4 254.6 L354.2 255.4 L355.1 256.1 L356.0 256.9 L356.9 257.7 L357.7 258.4 L358.6 259.2 L359.5 259.9 L360.3 260.7 L361.2 261.5 L362.1 262.2 L363.0 263.0 L363.8 263.7 L364.7 264.5 L365.6 265.2 L366.5 266.0 L367.4 266.7 L368.2 267.5 L369.1 268.2 L370.0 269.0 L370.9 269.7 L371.8 270.5 L372.7 271.2 L373.5 272.0 L374.4 272.7 L375.3 273.5 L376.2 274.2 L377.1 274.9 L378.0 275.7 L378.9 276.4 L379.8 277.2 L380.6 277.9 L381.5 278.6 L382.4 279.4 L383.3 280.1 L384.2 280.8 L385.1 281.6 L386.0 282.3 L386.9 283.0 L387.8 283.8 L388.7 284.5 L389.6 285.2 L390.5 286.0 L391.4 286.7 L392.3 287.4 L393.2 288.1 L394.1 288.9 L395.0 289.6 L395.9 290.3 L396.8 291.1 L397.7 291.8 L398.6 292.5 L399.5 293.2 L400.4 293.9 L401.3 294.7 L402.2 295.4 L403.1 296.1 L404.0 296.8 L404.9 297.5 L405.9 298.3 L406.8 299.0 L407.7 299.7 L408.6 300.4 L409.5 301.1 L410.4 301.8 L411.3 302.5 L412.2 303.3 L413.1 304.0 L414.0 304.7 L415.0 305.4 L415.9 306.1 L416.8 306.8 L417.7 307.5 L418.6 308.2 L419.5 308.9 L420.4 309.6 L421.4 310.3 L422.3 311.0 L423.2 311.7 L424.1 312.4 L425.0 313.1 L426.0 313.8 L426.9 314.5 L427.8 315.2 L428.7 315.9 L429.7 316.6 L430.6 317.3 L431.5 318.0 L432.4 318.7 L433.4 319.4 L434.3 320.0 L435.2 320.7 L436.2 321.4 L437.1 322.1 L438.1 322.7 L439.0 323.4 L439.9 324.1 L440.9 324.8 L441.8 325.4 L442.8 326.1 L443.7 326.7 L444.7 327.4 L445.6 328.1 L446.6 328.7 L447.5 329.4 L448.5 330.0 L449.4 330.7 L450.4 331.3 L451.4 331.9 L452.3 332.6 L453.3 333.2 L454.3 333.8 L455.2 334.5 L456.2 335.1 L457.2 335.7 L458.2 336.4 L459.1 337.0 L460.1 337.6 L461.1 338.2 L462.1 338.8 L463.1 339.4 L464.1 340.0 L465.0 340.6 L466.0 341.2 L467.0 341.8 L468.0 342.4 L469.0 343.0" stroke="#77ac30" stroke-width="0.8" stroke-opacity="0.6"/>
<path d="M79.1 365.5 L79.1 364.4 L79.1 363.2 L79.1 362.0 L79.1 360.9 L79.1 359.7 L79.1 358.6 L79.1 357.4 L79.1 356.3 L79.1 355.1 L79.2 353.9 L79.2 352.8 L79.2 351.6 L79.2 350.5 L79.2 349.3 L79.2 348.2 L79.2 347.0 L79.2 345.8 L79.2 344.7 L79.2 343.5 L79.2 342.4 L79.2 341.2 L79.2 340.1 L79.2 338.9 L79.2 337.8 L79.2 336.6 L79.2 335.4 L79.2 334.3 L79.2 333.1 L79.2 332.0 L79.2 330.8 L79.2 329.7 L79.2 328.5 L79.2 327.3 L79.2 326.2 L79.2 325.0 L79.2 323.9 L79.2 322.7 L79.2 321.6 L79.2 320.4 L79.2 319.3 L79.2 318.1 L79.2 316.9 L79.2 315.8 L79.2 314.6 L79.2 313.5 L79.2 312.3 L79.2 311.2 L79.2 310.0 L79.2 308.9 L79.2 307.7 L79.2 306.5 L79.2 305.4 L79.2 304.2 L79.2 303.1 L79.2 301.9 L79.2 300.8 L79.2 299.6 L79.2 298.4 L79.2 297.3 L79.2 296.1 L79.2 295.0 L79.2 293.8 L79.2 292.7 L79.2 291.5 L79.2 290.4 L79.2 289.2 L79.2 288.0 L79.2 286.9 L79.2 285.7 L79.2 284.6 L79.2 283.4 L79.2 282.3 L79.2 281.1 L79.2 280.0 L79.2 278.8 L79.2 277.6 L79.2 276.5 L79.2 275.3 L79.2 274.2 L79.2 273.0 L79.2 271.9 L79.2 270.7 L79.2 269.6 L79.2 268.4 L79.2 267.2 L79.2 266.1 L79.2 264.9 L79.2 263.8 L79.2 262.6 L79.2 261.5 L79.2 260.3 L79.2 259.2 L79.2 258.0 L79.2 256.9 L79.2 255.7 L79.2 254.5 L79.2 253.4 L79.2 252.2 L79.2 251.1 L79.2 249.9 L79.2 248.8 L79.2 247.6 L79.2 246.5 L79.2 245.3 L79.2 244.1 L79.2 243.0 L79.2 241.8 L79.2 240.7 L79.2 239.5 L79.2 238.4 L79.2 237.2 L79.2 236.1 L79.2 234.9 L79.2 233.7 L79.2 232.6 L79.2 231.4 L79.2 230.3 L79.2 229.1 L79.2 228.0 L79.2 226.8 L79.2 225.7 L79.2 224.5 L79.2 223.4 L79.3 222.2 L79.3 221.0 L79.3 219.9 L79.3 218.7 L79.3 217.6 L79.3 216.4 L79.3 215.3 L79.4 214.1 L79.4 213.0 L79.4 211.8 L79.4 210.6 L79.4 209.5 L79.5 208.3 L79.5 207.2 L79.5 206.0 L79.5 204.9 L79.5 203.7 L79.6 202.6 L79.6 201.4 L79.6 200.3 L79.6 199.1 L79.7 197.9 L79.7 196.8 L79.7 195.6 L79.8 194.5 L79.8 193.3 L79.8 192.2 L79.8 191.0 L79.9 189.9 L79.9 188.7 L79.9 187.5 L80.0 186.4 L80.0 185.2 L80.0 184.1 L80.1 182.9 L80.1 181.8 L80.2 180.6 L80.2 179.5 L80.2 178.3 L80.3 177.2 L80.3 176.0 L80.4 174.8" stroke="#4dbeee" stroke-width="2.4" stroke-dasharray="3.7 1"/>
<path d="M80.4 174.8 L80.4 173.7 L80.4 172.5 L80.5 171.4 L80.5 170.2 L80.6 169.1 L80.6 167.9 L80.7 166.8 L80.7 165.6 L80.8 164.4 L80.8 163.3 L80.9 162.1 L80.9 161.0 L81.0 159.8 L81.0 158.7 L81.1 157.5 L81.2 156.4 L81.2 155.2 L81.3 154.1 L81.3 152.9 L81.4 151.7 L81.5 150.6 L81.5 149.4 L81.6 148.3 L81.6 147.1 L81.7 146.0 L81.8 144.8 L81.8 143.7 L81.9 142.5 L82.0 141.3 L82.1 140.2 L82.1 139.0 L82.2 137.9 L82.3 136.7 L82.4 135.6 L82.4 134.4 L82.5 133.3 L82.6 132.1 L82.7 130.9 L82.8 129.8 L82.8 128.6 L82.9 127.5 L83.0 126.3 L83.1 125.2 L83.2 124.0 L83.3 122.9 L83.4 121.7 L83.5 120.6 L83.6 119.4 L83.7 118.3 L83.8 117.1 L84.0 116.0 L84.1 114.8 L84.2 113.7 L84.3 112.5 L84.5 111.4 L84.6 110.2 L84.7 109.1 L84.9 107.9 L85.0 106.8 L85.2 105.6 L85.3 104.5 L85.5 103.4 L85.7 102.2 L85.9 101.1 L86.0 99.9 L86.2 98.8 L86.4 97.7 L86.6 96.5 L86.8 95.4 L87.0 94.3 L87.2 93.1 L87.5 92.0 L87.7 90.9 L87.9 89.8 L88.2 88.6 L88.4 87.5 L88.7 86.4 L89.0 85.3 L89.2 84.1 L89.5 83.0 L89.8 81.9 L90.1 80.8 L90.4 79.7 L90.7 78.6 L91.1 77.5 L91.4 76.4 L91.7 75.3 L92.1 74.2 L92.5 73.1 L92.8 72.0 L93.2 70.9 L93.6 69.8 L94.0 68.7 L94.4 67.6 L94.8 66.5 L95.2 65.4 L95.7 64.3 L96.1 63.3 L96.6 62.2 L97.1 61.1 L97.6 60.0 L98.1 59.0 L98.6 57.9 L99.1 56.9 L99.6 55.9 L100.2 54.8 L100.8 53.8 L101.4 52.8 L102.1 51.9 L102.7 50.9 L103.4 50.0 L104.1 49.1 L104.9 48.2 L105.7 47.3 L106.5 46.5 L107.3 45.7 L108.2 44.9 L109.1 44.2 L110.0 43.5 L110.9 42.8 L111.9 42.2 L112.9 41.6 L113.9 41.0 L114.9 40.5 L116.0 40.0 L117.0 39.6 L118.1 39.3 L119.2 38.9 L120.3 38.7 L121.4 38.4 L122.5 38.3 L123.6 38.1 L124.7 38.0 L125.9 38.0 L127.0 38.0 L128.1 38.1 L129.2 38.2 L130.3 38.4 L131.4 38.6 L132.5 38.8 L133.6 39.1 L134.7 39.4 L135.8 39.8 L136.8 40.2 L137.9 40.7 L138.9 41.1 L139.9 41.6 L141.0 42.2 L142.0 42.7 L143.0 43.3 L144.0 43.9 L145.0 44.5 L146.0 45.1 L147.0 45.8 L148.0 46.4 L149.0 47.1 L149.9 47.8 L150.9 48.5 L151.9 49.1 L152.8 49.8 L153.8 50.5 L154.7 51.2 L155.6 51.9 L156.6 52.7 L157.5 53.4 L158.4 54.1 L159.3 54.8 L160.2 55.5 L161.1 56.3 L162.0 57.0 L162.9 57.8 L163.8 58.5 L164.7 59.3 L165.6 60.0 L166.5 60.8 L167.3 61.6 L168.2 62.3 L169.1 63.1 L169.9 63.9 L170.8 64.6 L171.6 65.4 L172.5 66.2 L173.3 67.0 L174.2 67.8 L175.0 68.6 L175.8 69.4 L176.7 70.2 L177.5 71.0 L178.3 71.8 L179.1 72.6 L179.9 73.4 L180.8 74.3 L181.6 75.1 L182.4 75.9 L183.2 76.7 L184.0 77.5 L184.8 78.4 L185.6 79.2 L186.4 80.0 L187.2 80.9 L188.0 81.7 L188.8 82.6 L189.6 83.4 L190.3 84.2 L191.1 85.1 L191.9 85.9 L192.7 86.8 L193.5 87.6 L194.3 88.5 L195.0 89.3 L195.8 90.2 L196.6 91.0 L197.4 91.9 L198.1 92.7 L198.9 93.6 L199.7 94.5 L200.5 95.3 L201.2 96.2 L202.0 97.0 L202.8 97.9 L203.5 98.8 L204.3 99.6 L205.1 100.5 L205.8 101.3 L206.6 102.2 L207.4 103.1 L208.2 103.9 L208.9 104.8 L209.7 105.6 L210.5 106.5 L211.2 107.4 L212.0 108.2 L212.8 109.1 L213.5 109.9 L214.3 110.8 L215.1 111.7 L215.8 112.5 L216.6 113.4 L217.4 114.2 L218.2 115.1 L218.9 116.0 L219.7 116.8 L220.5 117.7 L221.2 118.6 L222.0 119.4 L222.8 120.3 L223.6 121.1 L224.3 122.0 L225.1 122.9 L225.9 123.7 L226.6 124.6 L227.4 125.4 L228.2 126.3 L228.9 127.2 L229.7 128.0 L230.5 128.9 L231.3 129.7 L232.0 130.6 L232.8 131.5 L233.6 132.3 L234.4 133.2 L235.1 134.0 L235.9 134.9 L236.7 135.8 L237.4 136.6 L238.2 137.5 L239.0 138.3 L239.8 139.2 L240.5 140.1 L241.3 140.9 L242.1 141.8 L242.9 142.6 L243.6 143.5 L244.4 144.3 L245.2 145.2 L246.0 146.1 L246.8 146.9 L247.5 147.8 L248.3 148.6 L249.1 149.5 L249.9 150.3 L250.6 151.2 L251.4 152.1 L252.2 152.9 L253.0 153.8 L253.8 154.6 L254.5 155.5 L255.3 156.3 L256.1 157.2 L256.9 158.0 L257.7 158.9 L258.4 159.7 L259.2 160.6 L260.0 161.4 L260.8 162.3 L261.6 163.1 L262.4 164.0 L263.1 164.8 L263.9 165.7 L264.7 166.5 L265.5 167.4 L266.3 168.2 L267.1 169.1 L267.9 169.9 L268.6 170.8 L269.4 171.6 L270.2 172.5 L271.0 173.3 L271.8 174.2 L272.6 175.0 L273.4 175.8 L274.2 176.7 L275.0 177.5 L275.8 178.4 L276.5 179.2 L277.3 180.1 L278.1 180.9 L278.9 181.7 L279.7 182.6 L280.5 183.4 L281.3 184.3 L282.1 185.1 L282.9 185.9 L283.7 186.8 L284.5 187.6 L285.3 188.4 L286.1 189.3 L286.9 190.1 L287.7 190.9 L288.5 191.8 L289.3 192.6 L290.1 193.4 L290.9 194.3 L291.7 195.1 L292.5 195.9 L293.3 196.8 L294.1 197.6 L294.9 198.4 L295.7 199.2 L296.5 200.1 L297.4 200.9 L298.2 201.7 L299.0 202.5 L299.8 203.4 L300.6 204.2 L301.4 205.0 L302.2 205.8 L303.0 206.7 L303.8 207.5 L304.7 208.3 L305.5 209.1 L306.3 209.9 L307.1 210.8 L307.9 211.6 L308.7 212.4 L309.6 213.2 L310.4 214.0 L311.2 214.8 L312.0 215.6 L312.8 216.4 L313.7 217.3 L314.5 218.1 L315.3 218.9 L316.1 219.7 L317.0 220.5 L317.8 221.3 L318.6 222.1 L319.5 222.9 L320.3 223.7 L321.1 224.5 L322.0 225.3 L322.8 226.1 L323.6 226.9 L324.5 227.7 L325.3 228.5 L326.1 229.3 L327.0 230.1 L327.8 230.9 L328.6 231.7 L329.5 232.5 L330.3 233.3 L331.2 234.1 L332.0 234.9 L332.8 235.6 L333.7 236.4 L334.5 237.2 L335.4 238.0 L336.2 238.8 L337.1 239.6 L337.9 240.4 L338.8 241.1 L339.6 241.9 L340.5 242.7 L341.3 243.5 L342.2 244.3 L343.0 245.0 L343.9 245.8 L344.8 246.6 L345.6 247.4 L346.5 248.1 L347.3 248.9 L348.2 249.7 L349.1 250.4 L349.9 251.2 L350.8 252.0 L351.6 252.7 L352.5 253.5 L353.4 254.3 L354.2 255.0 L355.1 255.8 L356.0 256.6 L356.9 257.3 L357.7 258.1 L358.6 258.8 L359.5 259.6 L360.3 260.3 L361.2 261.1 L362.1 261.9 L363.0 262.6 L363.8 263.4 L364.7 264.1 L365.6 264.9 L366.5 265.6 L367.4 266.4 L368.2 267.1 L369.1 267.9 L370.0 268.6 L370.9 269.4 L371.8 270.1 L372.7 270.8 L373.5 271.6 L374.4 272.3 L375.3 273.1 L376.2 273.8 L377.1 274.5 L378.0 275.3 L378.9 276.0 L379.8 276.8 L380.6 277.5 L381.5 278.2 L382.4 279.0 L383.3 279.7 L384.2 280.4 L385.1 281.2 L386.0 281.9 L386.9 282.6 L387.8 283.4 L388.7 284.1 L389.6 284.8 L390.5 285.5 L391.4 286.3 L392.3 287.0 L393.2 287.7 L394.1 288.4 L395.0 289.2 L395.9 289.9 L396.8 290.6 L397.7 291.3 L398.6 292.1 L399.5 292.8 L400.4 293.5 L401.3 294.2 L402.2 294.9 L403.1 295.7 L404.0 296.4 L404.9 297.1 L405.9 297.8 L406.8 298.5 L407.7 299.2 L408.6 300.0 L409.5 300.7 L410.4 301.4 L411.3 302.1 L412.2 302.8 L413.1 303.5 L414.0 304.2 L415.0 304.9 L415.9 305.6 L416.8 306.3 L417.7 307.1 L418.6 307.8 L419.5 308.5 L420.4 309.2 L421.4 309.9 L422.3 310.6 L423.2 311.3 L424.1 312.0 L425.0 312.7 L426.0 313.4 L426.9 314.1 L427.8 314.7 L428.7 315.4 L429.7 316.1 L430.6 316.8 L431.5 317.5 L432.4 318.2 L433.4 318.9 L434.3 319.6 L435.2 320.2 L436.2 320.9 L437.1 321.6 L438.1 322.3 L439.0 322.9 L439.9 323.6 L440.9 324.3 L441.8 324.9 L442.8 325.6 L443.7 326.3 L444.7 326.9 L445.6 327.6 L446.6 328.2 L447.5 328.9 L448.5 329.5 L449.4 330.2 L450.4 330.8 L451.4 331.4 L452.3 332.1 L453.3 332.7 L454.3 333.4 L455.2 334.0 L456.2 334.6 L457.2 335.2 L458.2 335.9 L459.1 336.5 L460.1 337.1 L461.1 337.7 L462.1 338.3 L463.1 338.9 L464.1 339.5 L465.0 340.1 L466.0 340.7 L467.0 341.3 L468.0 341.9 L469.0 342.5" stroke="#4dbeee" stroke-width="2.4" stroke-dasharray="6.4 1.6 2.4 1.6"/>
</g>
<rect x="280.7" y="22.5" width="263.2" height="151.7" fill="#fff" stroke="#3a3a3a" stroke-width="1.1"/>
<path d="M280.7 21.95V174.75" stroke="#3a3a3a" stroke-width="1.45"/>
<circle cx="301" cy="36.8" r="1.1" fill="#ff0000"/>
<path d="M285.8 57.5H316.4" stroke="#0072bd" stroke-width="2.2" stroke-dasharray="6.4 5.7"/>
<path d="M285.8 78.5H316.4" stroke="#d95319" stroke-width="2.2"/>
<path d="M285.8 99.3H316.4" stroke="#edb120" stroke-width="2" stroke-dasharray="1.5 1.6"/>
<path d="M285.8 120.3H316.4" stroke="#a871b5" stroke-width="0.9"/>
<circle cx="301" cy="120.3" r="1.0" fill="#7e2f8e"/>
<path d="M285.8 141.2H316.4" stroke="#9cc56b" stroke-width="0.9"/>
<path d="M285.8 161.9H316.4" stroke="#4dbeee" stroke-width="2.4" stroke-dasharray="6 2 2 2"/>
<g font-family="'Liberation Serif','Times New Roman',serif" font-size="15.35" fill="#1a1a1a">
<text x="328.2" y="41.9">Measured data</text>
<text x="328.2" y="62.4">Positive 2nd/4th order MoM</text>
<text x="328.2" y="82.6">Positive 1st order ZlogZ</text>
<text x="328.2" y="104.3">Positive 0.5/1st order PSO-MFoM</text>
<text x="328.2" y="125.6">Positive 0.25 order PSO-ZlogZ</text>
<text x="328.2" y="146.1">1D PSO-MLE</text>
<text x="328.2" y="166.5">2D PSO-MLE</text>
</g>
<g font-family="'Liberation Sans',Arial,sans-serif" fill="#1c1c1c" stroke="#1c1c1c" stroke-width="0.25">
<text transform="translate(78.2 393.9) scale(1 1.08)" font-size="21.1" text-anchor="middle">0</text>
<text transform="translate(208.4 393.9) scale(1 1.08)" font-size="21.1" text-anchor="middle">2</text>
<text transform="translate(338.5 393.9) scale(1 1.08)" font-size="21.1" text-anchor="middle">4</text>
<text transform="translate(468.7 393.9) scale(1 1.08)" font-size="21.1" text-anchor="middle">6</text>
<text transform="translate(37.6 28.5) scale(1 1.05)" font-size="21.1">10<tspan font-size="16.2" dx="0.8" dy="-9.0">0</tspan></text>
<text transform="translate(32.0 144.5) scale(1 1.05)" font-size="21.1">10<tspan font-size="16.2" dx="0.8" dy="-9.0">-1</tspan></text>
<text transform="translate(32.0 260.5) scale(1 1.05)" font-size="21.1">10<tspan font-size="16.2" dx="0.8" dy="-9.0">-2</tspan></text>
<text transform="translate(32.0 376.5) scale(1 1.05)" font-size="21.1">10<tspan font-size="16.2" dx="0.8" dy="-9.0">-3</tspan></text>
<text transform="translate(23.7 191.3) rotate(-90)" font-size="23" letter-spacing="1.2" text-anchor="middle">PDF</text>
</g>
<text x="130.7" y="428.8" font-family="'Liberation Serif','Times New Roman',serif" font-size="22.75" fill="#1a1a1a">The amplitude value of the clutter</text>
</svg>
</body></html>
